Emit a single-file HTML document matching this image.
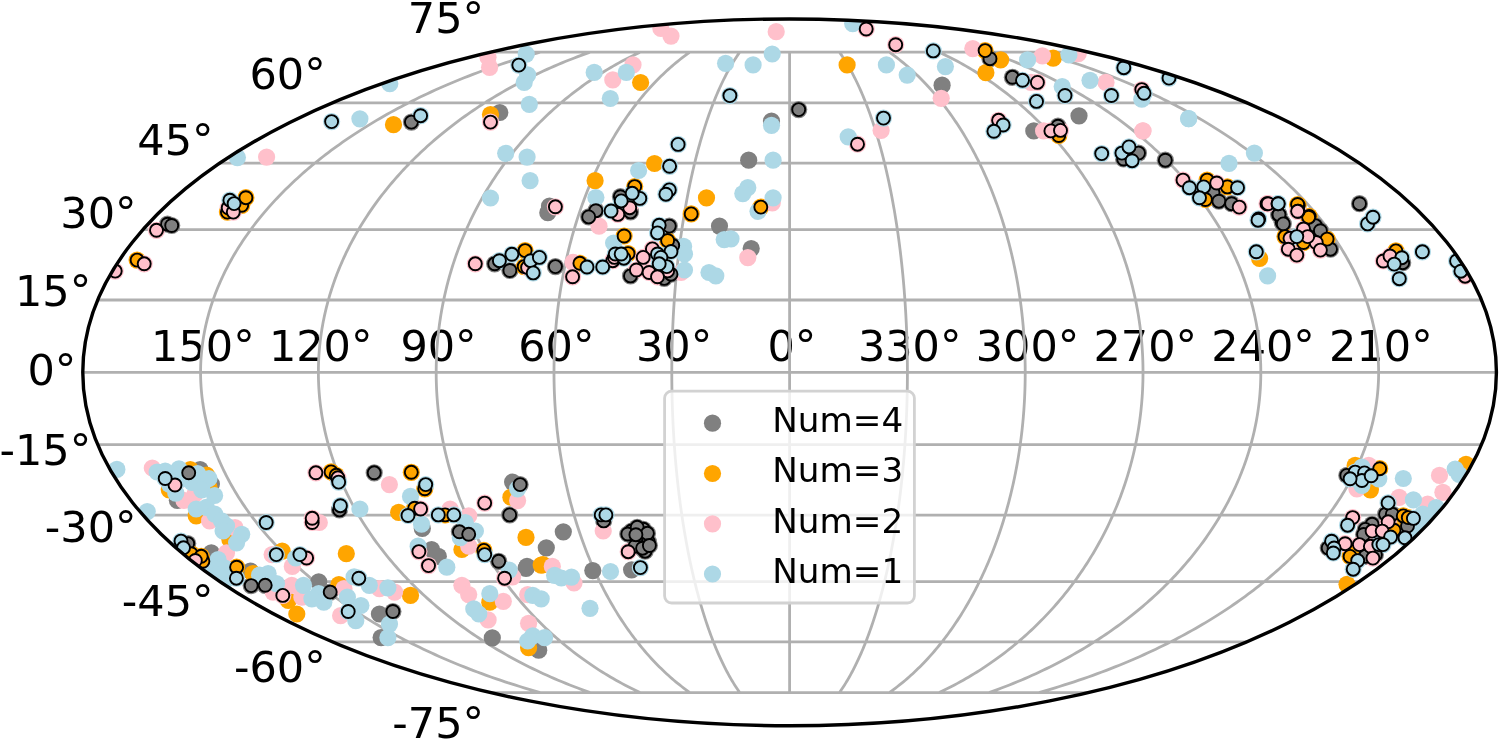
<!DOCTYPE html>
<html><head><meta charset="utf-8"><style>
html,body{margin:0;padding:0;background:#fff;}
svg{display:block;}
text{font-family:"DejaVu Sans","Liberation Sans",sans-serif;fill:#000;}
</style></head><body>
<svg width="1500" height="741" viewBox="0 0 1500 741">
<rect width="1500" height="741" fill="#fff"/>
<g font-size="43">
<text x="202.9" y="361.2" text-anchor="middle">150°</text><text x="320.7" y="361.2" text-anchor="middle">120°</text><text x="438.5" y="361.2" text-anchor="middle">90°</text><text x="556.3" y="361.2" text-anchor="middle">60°</text><text x="674.1" y="361.2" text-anchor="middle">30°</text><text x="791.9" y="361.2" text-anchor="middle">0°</text><text x="909.7" y="361.2" text-anchor="middle">330°</text><text x="1027.5" y="361.2" text-anchor="middle">300°</text><text x="1145.3" y="361.2" text-anchor="middle">270°</text><text x="1263.1" y="361.2" text-anchor="middle">240°</text><text x="1380.9" y="361.2" text-anchor="middle">210°</text>
<text x="484.0" y="737.6" text-anchor="end">-75°</text><text x="325.7" y="681.7" text-anchor="end">-60°</text><text x="213.5" y="615.5" text-anchor="end">-45°</text><text x="136.5" y="542.4" text-anchor="end">-30°</text><text x="91.2" y="464.9" text-anchor="end">-15°</text><text x="76.3" y="385.4" text-anchor="end">0°</text><text x="91.2" y="305.8" text-anchor="end">15°</text><text x="136.5" y="228.3" text-anchor="end">30°</text><text x="213.5" y="155.2" text-anchor="end">45°</text><text x="325.7" y="89.0" text-anchor="end">60°</text><text x="484.0" y="33.1" text-anchor="end">75°</text>
</g>
<path d="M490.50,692.56 L493.82,692.56 L497.15,692.56 L500.47,692.56 L503.79,692.56 L507.12,692.56 L510.44,692.56 L513.76,692.56 L517.09,692.56 L520.41,692.56 L523.73,692.56 L527.06,692.56 L530.38,692.56 L533.70,692.56 L537.03,692.56 L540.35,692.56 L543.67,692.56 L547.00,692.56 L550.32,692.56 L553.64,692.56 L556.97,692.56 L560.29,692.56 L563.61,692.56 L566.94,692.56 L570.26,692.56 L573.58,692.56 L576.91,692.56 L580.23,692.56 L583.55,692.56 L586.88,692.56 L590.20,692.56 L593.52,692.56 L596.85,692.56 L600.17,692.56 L603.49,692.56 L606.82,692.56 L610.14,692.56 L613.46,692.56 L616.79,692.56 L620.11,692.56 L623.43,692.56 L626.76,692.56 L630.08,692.56 L633.40,692.56 L636.73,692.56 L640.05,692.56 L643.37,692.56 L646.70,692.56 L650.02,692.56 L653.34,692.56 L656.67,692.56 L659.99,692.56 L663.31,692.56 L666.64,692.56 L669.96,692.56 L673.28,692.56 L676.61,692.56 L679.93,692.56 L683.25,692.56 L686.58,692.56 L689.90,692.56 L693.22,692.56 L696.55,692.56 L699.87,692.56 L703.19,692.56 L706.52,692.56 L709.84,692.56 L713.16,692.56 L716.49,692.56 L719.81,692.56 L723.13,692.56 L726.46,692.56 L729.78,692.56 L733.10,692.56 L736.43,692.56 L739.75,692.56 L743.07,692.56 L746.40,692.56 L749.72,692.56 L753.04,692.56 L756.37,692.56 L759.69,692.56 L763.01,692.56 L766.34,692.56 L769.66,692.56 L772.98,692.56 L776.31,692.56 L779.63,692.56 L782.95,692.56 L786.28,692.56 L789.60,692.56 L792.92,692.56 L796.25,692.56 L799.57,692.56 L802.89,692.56 L806.22,692.56 L809.54,692.56 L812.86,692.56 L816.19,692.56 L819.51,692.56 L822.83,692.56 L826.16,692.56 L829.48,692.56 L832.80,692.56 L836.13,692.56 L839.45,692.56 L842.77,692.56 L846.10,692.56 L849.42,692.56 L852.74,692.56 L856.07,692.56 L859.39,692.56 L862.71,692.56 L866.04,692.56 L869.36,692.56 L872.68,692.56 L876.01,692.56 L879.33,692.56 L882.65,692.56 L885.98,692.56 L889.30,692.56 L892.62,692.56 L895.95,692.56 L899.27,692.56 L902.59,692.56 L905.92,692.56 L909.24,692.56 L912.56,692.56 L915.89,692.56 L919.21,692.56 L922.53,692.56 L925.86,692.56 L929.18,692.56 L932.50,692.56 L935.83,692.56 L939.15,692.56 L942.47,692.56 L945.80,692.56 L949.12,692.56 L952.44,692.56 L955.77,692.56 L959.09,692.56 L962.41,692.56 L965.74,692.56 L969.06,692.56 L972.38,692.56 L975.71,692.56 L979.03,692.56 L982.35,692.56 L985.68,692.56 L989.00,692.56 L992.32,692.56 L995.65,692.56 L998.97,692.56 L1002.29,692.56 L1005.62,692.56 L1008.94,692.56 L1012.26,692.56 L1015.59,692.56 L1018.91,692.56 L1022.23,692.56 L1025.56,692.56 L1028.88,692.56 L1032.20,692.56 L1035.53,692.56 L1038.85,692.56 L1042.17,692.56 L1045.50,692.56 L1048.82,692.56 L1052.14,692.56 L1055.47,692.56 L1058.79,692.56 L1062.11,692.56 L1065.44,692.56 L1068.76,692.56 L1072.08,692.56 L1075.41,692.56 L1078.73,692.56 L1082.05,692.56 L1085.38,692.56 L1088.70,692.56 M332.20,641.79 L337.28,641.79 L342.36,641.79 L347.45,641.79 L352.53,641.79 L357.61,641.79 L362.69,641.79 L367.77,641.79 L372.86,641.79 L377.94,641.79 L383.02,641.79 L388.10,641.79 L393.19,641.79 L398.27,641.79 L403.35,641.79 L408.43,641.79 L413.51,641.79 L418.60,641.79 L423.68,641.79 L428.76,641.79 L433.84,641.79 L438.93,641.79 L444.01,641.79 L449.09,641.79 L454.17,641.79 L459.25,641.79 L464.34,641.79 L469.42,641.79 L474.50,641.79 L479.58,641.79 L484.67,641.79 L489.75,641.79 L494.83,641.79 L499.91,641.79 L504.99,641.79 L510.08,641.79 L515.16,641.79 L520.24,641.79 L525.32,641.79 L530.41,641.79 L535.49,641.79 L540.57,641.79 L545.65,641.79 L550.73,641.79 L555.82,641.79 L560.90,641.79 L565.98,641.79 L571.06,641.79 L576.15,641.79 L581.23,641.79 L586.31,641.79 L591.39,641.79 L596.47,641.79 L601.56,641.79 L606.64,641.79 L611.72,641.79 L616.80,641.79 L621.89,641.79 L626.97,641.79 L632.05,641.79 L637.13,641.79 L642.22,641.79 L647.30,641.79 L652.38,641.79 L657.46,641.79 L662.54,641.79 L667.63,641.79 L672.71,641.79 L677.79,641.79 L682.87,641.79 L687.96,641.79 L693.04,641.79 L698.12,641.79 L703.20,641.79 L708.28,641.79 L713.37,641.79 L718.45,641.79 L723.53,641.79 L728.61,641.79 L733.70,641.79 L738.78,641.79 L743.86,641.79 L748.94,641.79 L754.02,641.79 L759.11,641.79 L764.19,641.79 L769.27,641.79 L774.35,641.79 L779.44,641.79 L784.52,641.79 L789.60,641.79 L794.68,641.79 L799.76,641.79 L804.85,641.79 L809.93,641.79 L815.01,641.79 L820.09,641.79 L825.18,641.79 L830.26,641.79 L835.34,641.79 L840.42,641.79 L845.50,641.79 L850.59,641.79 L855.67,641.79 L860.75,641.79 L865.83,641.79 L870.92,641.79 L876.00,641.79 L881.08,641.79 L886.16,641.79 L891.24,641.79 L896.33,641.79 L901.41,641.79 L906.49,641.79 L911.57,641.79 L916.66,641.79 L921.74,641.79 L926.82,641.79 L931.90,641.79 L936.98,641.79 L942.07,641.79 L947.15,641.79 L952.23,641.79 L957.31,641.79 L962.40,641.79 L967.48,641.79 L972.56,641.79 L977.64,641.79 L982.73,641.79 L987.81,641.79 L992.89,641.79 L997.97,641.79 L1003.05,641.79 L1008.14,641.79 L1013.22,641.79 L1018.30,641.79 L1023.38,641.79 L1028.47,641.79 L1033.55,641.79 L1038.63,641.79 L1043.71,641.79 L1048.79,641.79 L1053.88,641.79 L1058.96,641.79 L1064.04,641.79 L1069.12,641.79 L1074.21,641.79 L1079.29,641.79 L1084.37,641.79 L1089.45,641.79 L1094.53,641.79 L1099.62,641.79 L1104.70,641.79 L1109.78,641.79 L1114.86,641.79 L1119.95,641.79 L1125.03,641.79 L1130.11,641.79 L1135.19,641.79 L1140.27,641.79 L1145.36,641.79 L1150.44,641.79 L1155.52,641.79 L1160.60,641.79 L1165.69,641.79 L1170.77,641.79 L1175.85,641.79 L1180.93,641.79 L1186.01,641.79 L1191.10,641.79 L1196.18,641.79 L1201.26,641.79 L1206.34,641.79 L1211.43,641.79 L1216.51,641.79 L1221.59,641.79 L1226.67,641.79 L1231.75,641.79 L1236.84,641.79 L1241.92,641.79 L1247.00,641.79 M219.97,581.58 L226.29,581.58 L232.62,581.58 L238.95,581.58 L245.28,581.58 L251.61,581.58 L257.94,581.58 L264.27,581.58 L270.60,581.58 L276.93,581.58 L283.26,581.58 L289.59,581.58 L295.92,581.58 L302.25,581.58 L308.58,581.58 L314.90,581.58 L321.23,581.58 L327.56,581.58 L333.89,581.58 L340.22,581.58 L346.55,581.58 L352.88,581.58 L359.21,581.58 L365.54,581.58 L371.87,581.58 L378.20,581.58 L384.53,581.58 L390.86,581.58 L397.19,581.58 L403.51,581.58 L409.84,581.58 L416.17,581.58 L422.50,581.58 L428.83,581.58 L435.16,581.58 L441.49,581.58 L447.82,581.58 L454.15,581.58 L460.48,581.58 L466.81,581.58 L473.14,581.58 L479.47,581.58 L485.79,581.58 L492.12,581.58 L498.45,581.58 L504.78,581.58 L511.11,581.58 L517.44,581.58 L523.77,581.58 L530.10,581.58 L536.43,581.58 L542.76,581.58 L549.09,581.58 L555.42,581.58 L561.75,581.58 L568.08,581.58 L574.40,581.58 L580.73,581.58 L587.06,581.58 L593.39,581.58 L599.72,581.58 L606.05,581.58 L612.38,581.58 L618.71,581.58 L625.04,581.58 L631.37,581.58 L637.70,581.58 L644.03,581.58 L650.36,581.58 L656.69,581.58 L663.01,581.58 L669.34,581.58 L675.67,581.58 L682.00,581.58 L688.33,581.58 L694.66,581.58 L700.99,581.58 L707.32,581.58 L713.65,581.58 L719.98,581.58 L726.31,581.58 L732.64,581.58 L738.97,581.58 L745.30,581.58 L751.62,581.58 L757.95,581.58 L764.28,581.58 L770.61,581.58 L776.94,581.58 L783.27,581.58 L789.60,581.58 L795.93,581.58 L802.26,581.58 L808.59,581.58 L814.92,581.58 L821.25,581.58 L827.58,581.58 L833.90,581.58 L840.23,581.58 L846.56,581.58 L852.89,581.58 L859.22,581.58 L865.55,581.58 L871.88,581.58 L878.21,581.58 L884.54,581.58 L890.87,581.58 L897.20,581.58 L903.53,581.58 L909.86,581.58 L916.19,581.58 L922.51,581.58 L928.84,581.58 L935.17,581.58 L941.50,581.58 L947.83,581.58 L954.16,581.58 L960.49,581.58 L966.82,581.58 L973.15,581.58 L979.48,581.58 L985.81,581.58 L992.14,581.58 L998.47,581.58 L1004.80,581.58 L1011.12,581.58 L1017.45,581.58 L1023.78,581.58 L1030.11,581.58 L1036.44,581.58 L1042.77,581.58 L1049.10,581.58 L1055.43,581.58 L1061.76,581.58 L1068.09,581.58 L1074.42,581.58 L1080.75,581.58 L1087.08,581.58 L1093.41,581.58 L1099.73,581.58 L1106.06,581.58 L1112.39,581.58 L1118.72,581.58 L1125.05,581.58 L1131.38,581.58 L1137.71,581.58 L1144.04,581.58 L1150.37,581.58 L1156.70,581.58 L1163.03,581.58 L1169.36,581.58 L1175.69,581.58 L1182.01,581.58 L1188.34,581.58 L1194.67,581.58 L1201.00,581.58 L1207.33,581.58 L1213.66,581.58 L1219.99,581.58 L1226.32,581.58 L1232.65,581.58 L1238.98,581.58 L1245.31,581.58 L1251.64,581.58 L1257.97,581.58 L1264.30,581.58 L1270.62,581.58 L1276.95,581.58 L1283.28,581.58 L1289.61,581.58 L1295.94,581.58 L1302.27,581.58 L1308.60,581.58 L1314.93,581.58 L1321.26,581.58 L1327.59,581.58 L1333.92,581.58 L1340.25,581.58 L1346.58,581.58 L1352.91,581.58 L1359.23,581.58 M143.02,515.12 L150.20,515.12 L157.39,515.12 L164.57,515.12 L171.75,515.12 L178.94,515.12 L186.12,515.12 L193.31,515.12 L200.49,515.12 L207.68,515.12 L214.86,515.12 L222.04,515.12 L229.23,515.12 L236.41,515.12 L243.60,515.12 L250.78,515.12 L257.97,515.12 L265.15,515.12 L272.33,515.12 L279.52,515.12 L286.70,515.12 L293.89,515.12 L301.07,515.12 L308.26,515.12 L315.44,515.12 L322.62,515.12 L329.81,515.12 L336.99,515.12 L344.18,515.12 L351.36,515.12 L358.55,515.12 L365.73,515.12 L372.91,515.12 L380.10,515.12 L387.28,515.12 L394.47,515.12 L401.65,515.12 L408.84,515.12 L416.02,515.12 L423.20,515.12 L430.39,515.12 L437.57,515.12 L444.76,515.12 L451.94,515.12 L459.12,515.12 L466.31,515.12 L473.49,515.12 L480.68,515.12 L487.86,515.12 L495.05,515.12 L502.23,515.12 L509.41,515.12 L516.60,515.12 L523.78,515.12 L530.97,515.12 L538.15,515.12 L545.34,515.12 L552.52,515.12 L559.70,515.12 L566.89,515.12 L574.07,515.12 L581.26,515.12 L588.44,515.12 L595.63,515.12 L602.81,515.12 L609.99,515.12 L617.18,515.12 L624.36,515.12 L631.55,515.12 L638.73,515.12 L645.92,515.12 L653.10,515.12 L660.28,515.12 L667.47,515.12 L674.65,515.12 L681.84,515.12 L689.02,515.12 L696.20,515.12 L703.39,515.12 L710.57,515.12 L717.76,515.12 L724.94,515.12 L732.13,515.12 L739.31,515.12 L746.49,515.12 L753.68,515.12 L760.86,515.12 L768.05,515.12 L775.23,515.12 L782.42,515.12 L789.60,515.12 L796.78,515.12 L803.97,515.12 L811.15,515.12 L818.34,515.12 L825.52,515.12 L832.71,515.12 L839.89,515.12 L847.07,515.12 L854.26,515.12 L861.44,515.12 L868.63,515.12 L875.81,515.12 L883.00,515.12 L890.18,515.12 L897.36,515.12 L904.55,515.12 L911.73,515.12 L918.92,515.12 L926.10,515.12 L933.28,515.12 L940.47,515.12 L947.65,515.12 L954.84,515.12 L962.02,515.12 L969.21,515.12 L976.39,515.12 L983.57,515.12 L990.76,515.12 L997.94,515.12 L1005.13,515.12 L1012.31,515.12 L1019.50,515.12 L1026.68,515.12 L1033.86,515.12 L1041.05,515.12 L1048.23,515.12 L1055.42,515.12 L1062.60,515.12 L1069.79,515.12 L1076.97,515.12 L1084.15,515.12 L1091.34,515.12 L1098.52,515.12 L1105.71,515.12 L1112.89,515.12 L1120.08,515.12 L1127.26,515.12 L1134.44,515.12 L1141.63,515.12 L1148.81,515.12 L1156.00,515.12 L1163.18,515.12 L1170.36,515.12 L1177.55,515.12 L1184.73,515.12 L1191.92,515.12 L1199.10,515.12 L1206.29,515.12 L1213.47,515.12 L1220.65,515.12 L1227.84,515.12 L1235.02,515.12 L1242.21,515.12 L1249.39,515.12 L1256.58,515.12 L1263.76,515.12 L1270.94,515.12 L1278.13,515.12 L1285.31,515.12 L1292.50,515.12 L1299.68,515.12 L1306.87,515.12 L1314.05,515.12 L1321.23,515.12 L1328.42,515.12 L1335.60,515.12 L1342.79,515.12 L1349.97,515.12 L1357.16,515.12 L1364.34,515.12 L1371.52,515.12 L1378.71,515.12 L1385.89,515.12 L1393.08,515.12 L1400.26,515.12 L1407.45,515.12 L1414.63,515.12 L1421.81,515.12 L1429.00,515.12 L1436.18,515.12 M97.75,444.70 L105.43,444.70 L113.12,444.70 L120.81,444.70 L128.49,444.70 L136.18,444.70 L143.87,444.70 L151.56,444.70 L159.24,444.70 L166.93,444.70 L174.62,444.70 L182.31,444.70 L189.99,444.70 L197.68,444.70 L205.37,444.70 L213.05,444.70 L220.74,444.70 L228.43,444.70 L236.12,444.70 L243.80,444.70 L251.49,444.70 L259.18,444.70 L266.87,444.70 L274.55,444.70 L282.24,444.70 L289.93,444.70 L297.61,444.70 L305.30,444.70 L312.99,444.70 L320.68,444.70 L328.36,444.70 L336.05,444.70 L343.74,444.70 L351.43,444.70 L359.11,444.70 L366.80,444.70 L374.49,444.70 L382.17,444.70 L389.86,444.70 L397.55,444.70 L405.24,444.70 L412.92,444.70 L420.61,444.70 L428.30,444.70 L435.99,444.70 L443.67,444.70 L451.36,444.70 L459.05,444.70 L466.73,444.70 L474.42,444.70 L482.11,444.70 L489.80,444.70 L497.48,444.70 L505.17,444.70 L512.86,444.70 L520.55,444.70 L528.23,444.70 L535.92,444.70 L543.61,444.70 L551.29,444.70 L558.98,444.70 L566.67,444.70 L574.36,444.70 L582.04,444.70 L589.73,444.70 L597.42,444.70 L605.11,444.70 L612.79,444.70 L620.48,444.70 L628.17,444.70 L635.85,444.70 L643.54,444.70 L651.23,444.70 L658.92,444.70 L666.60,444.70 L674.29,444.70 L681.98,444.70 L689.67,444.70 L697.35,444.70 L705.04,444.70 L712.73,444.70 L720.41,444.70 L728.10,444.70 L735.79,444.70 L743.48,444.70 L751.16,444.70 L758.85,444.70 L766.54,444.70 L774.23,444.70 L781.91,444.70 L789.60,444.70 L797.29,444.70 L804.97,444.70 L812.66,444.70 L820.35,444.70 L828.04,444.70 L835.72,444.70 L843.41,444.70 L851.10,444.70 L858.79,444.70 L866.47,444.70 L874.16,444.70 L881.85,444.70 L889.53,444.70 L897.22,444.70 L904.91,444.70 L912.60,444.70 L920.28,444.70 L927.97,444.70 L935.66,444.70 L943.35,444.70 L951.03,444.70 L958.72,444.70 L966.41,444.70 L974.09,444.70 L981.78,444.70 L989.47,444.70 L997.16,444.70 L1004.84,444.70 L1012.53,444.70 L1020.22,444.70 L1027.91,444.70 L1035.59,444.70 L1043.28,444.70 L1050.97,444.70 L1058.65,444.70 L1066.34,444.70 L1074.03,444.70 L1081.72,444.70 L1089.40,444.70 L1097.09,444.70 L1104.78,444.70 L1112.47,444.70 L1120.15,444.70 L1127.84,444.70 L1135.53,444.70 L1143.21,444.70 L1150.90,444.70 L1158.59,444.70 L1166.28,444.70 L1173.96,444.70 L1181.65,444.70 L1189.34,444.70 L1197.03,444.70 L1204.71,444.70 L1212.40,444.70 L1220.09,444.70 L1227.77,444.70 L1235.46,444.70 L1243.15,444.70 L1250.84,444.70 L1258.52,444.70 L1266.21,444.70 L1273.90,444.70 L1281.59,444.70 L1289.27,444.70 L1296.96,444.70 L1304.65,444.70 L1312.33,444.70 L1320.02,444.70 L1327.71,444.70 L1335.40,444.70 L1343.08,444.70 L1350.77,444.70 L1358.46,444.70 L1366.15,444.70 L1373.83,444.70 L1381.52,444.70 L1389.21,444.70 L1396.89,444.70 L1404.58,444.70 L1412.27,444.70 L1419.96,444.70 L1427.64,444.70 L1435.33,444.70 L1443.02,444.70 L1450.71,444.70 L1458.39,444.70 L1466.08,444.70 L1473.77,444.70 L1481.45,444.70 M82.78,372.35 L90.63,372.35 L98.48,372.35 L106.34,372.35 L114.19,372.35 L122.04,372.35 L129.90,372.35 L137.75,372.35 L145.60,372.35 L153.46,372.35 L161.31,372.35 L169.17,372.35 L177.02,372.35 L184.87,372.35 L192.73,372.35 L200.58,372.35 L208.43,372.35 L216.29,372.35 L224.14,372.35 L231.99,372.35 L239.85,372.35 L247.70,372.35 L255.56,372.35 L263.41,372.35 L271.26,372.35 L279.12,372.35 L286.97,372.35 L294.82,372.35 L302.68,372.35 L310.53,372.35 L318.38,372.35 L326.24,372.35 L334.09,372.35 L341.94,372.35 L349.80,372.35 L357.65,372.35 L365.51,372.35 L373.36,372.35 L381.21,372.35 L389.07,372.35 L396.92,372.35 L404.77,372.35 L412.63,372.35 L420.48,372.35 L428.33,372.35 L436.19,372.35 L444.04,372.35 L451.90,372.35 L459.75,372.35 L467.60,372.35 L475.46,372.35 L483.31,372.35 L491.16,372.35 L499.02,372.35 L506.87,372.35 L514.72,372.35 L522.58,372.35 L530.43,372.35 L538.28,372.35 L546.14,372.35 L553.99,372.35 L561.85,372.35 L569.70,372.35 L577.55,372.35 L585.41,372.35 L593.26,372.35 L601.11,372.35 L608.97,372.35 L616.82,372.35 L624.67,372.35 L632.53,372.35 L640.38,372.35 L648.24,372.35 L656.09,372.35 L663.94,372.35 L671.80,372.35 L679.65,372.35 L687.50,372.35 L695.36,372.35 L703.21,372.35 L711.06,372.35 L718.92,372.35 L726.77,372.35 L734.62,372.35 L742.48,372.35 L750.33,372.35 L758.19,372.35 L766.04,372.35 L773.89,372.35 L781.75,372.35 L789.60,372.35 L797.45,372.35 L805.31,372.35 L813.16,372.35 L821.01,372.35 L828.87,372.35 L836.72,372.35 L844.58,372.35 L852.43,372.35 L860.28,372.35 L868.14,372.35 L875.99,372.35 L883.84,372.35 L891.70,372.35 L899.55,372.35 L907.40,372.35 L915.26,372.35 L923.11,372.35 L930.96,372.35 L938.82,372.35 L946.67,372.35 L954.53,372.35 L962.38,372.35 L970.23,372.35 L978.09,372.35 L985.94,372.35 L993.79,372.35 L1001.65,372.35 L1009.50,372.35 L1017.35,372.35 L1025.21,372.35 L1033.06,372.35 L1040.92,372.35 L1048.77,372.35 L1056.62,372.35 L1064.48,372.35 L1072.33,372.35 L1080.18,372.35 L1088.04,372.35 L1095.89,372.35 L1103.74,372.35 L1111.60,372.35 L1119.45,372.35 L1127.30,372.35 L1135.16,372.35 L1143.01,372.35 L1150.87,372.35 L1158.72,372.35 L1166.57,372.35 L1174.43,372.35 L1182.28,372.35 L1190.13,372.35 L1197.99,372.35 L1205.84,372.35 L1213.69,372.35 L1221.55,372.35 L1229.40,372.35 L1237.26,372.35 L1245.11,372.35 L1252.96,372.35 L1260.82,372.35 L1268.67,372.35 L1276.52,372.35 L1284.38,372.35 L1292.23,372.35 L1300.08,372.35 L1307.94,372.35 L1315.79,372.35 L1323.64,372.35 L1331.50,372.35 L1339.35,372.35 L1347.21,372.35 L1355.06,372.35 L1362.91,372.35 L1370.77,372.35 L1378.62,372.35 L1386.47,372.35 L1394.33,372.35 L1402.18,372.35 L1410.03,372.35 L1417.89,372.35 L1425.74,372.35 L1433.60,372.35 L1441.45,372.35 L1449.30,372.35 L1457.16,372.35 L1465.01,372.35 L1472.86,372.35 L1480.72,372.35 L1488.57,372.35 L1496.42,372.35 M97.75,300.00 L105.43,300.00 L113.12,300.00 L120.81,300.00 L128.49,300.00 L136.18,300.00 L143.87,300.00 L151.56,300.00 L159.24,300.00 L166.93,300.00 L174.62,300.00 L182.31,300.00 L189.99,300.00 L197.68,300.00 L205.37,300.00 L213.05,300.00 L220.74,300.00 L228.43,300.00 L236.12,300.00 L243.80,300.00 L251.49,300.00 L259.18,300.00 L266.87,300.00 L274.55,300.00 L282.24,300.00 L289.93,300.00 L297.61,300.00 L305.30,300.00 L312.99,300.00 L320.68,300.00 L328.36,300.00 L336.05,300.00 L343.74,300.00 L351.43,300.00 L359.11,300.00 L366.80,300.00 L374.49,300.00 L382.17,300.00 L389.86,300.00 L397.55,300.00 L405.24,300.00 L412.92,300.00 L420.61,300.00 L428.30,300.00 L435.99,300.00 L443.67,300.00 L451.36,300.00 L459.05,300.00 L466.73,300.00 L474.42,300.00 L482.11,300.00 L489.80,300.00 L497.48,300.00 L505.17,300.00 L512.86,300.00 L520.55,300.00 L528.23,300.00 L535.92,300.00 L543.61,300.00 L551.29,300.00 L558.98,300.00 L566.67,300.00 L574.36,300.00 L582.04,300.00 L589.73,300.00 L597.42,300.00 L605.11,300.00 L612.79,300.00 L620.48,300.00 L628.17,300.00 L635.85,300.00 L643.54,300.00 L651.23,300.00 L658.92,300.00 L666.60,300.00 L674.29,300.00 L681.98,300.00 L689.67,300.00 L697.35,300.00 L705.04,300.00 L712.73,300.00 L720.41,300.00 L728.10,300.00 L735.79,300.00 L743.48,300.00 L751.16,300.00 L758.85,300.00 L766.54,300.00 L774.23,300.00 L781.91,300.00 L789.60,300.00 L797.29,300.00 L804.97,300.00 L812.66,300.00 L820.35,300.00 L828.04,300.00 L835.72,300.00 L843.41,300.00 L851.10,300.00 L858.79,300.00 L866.47,300.00 L874.16,300.00 L881.85,300.00 L889.53,300.00 L897.22,300.00 L904.91,300.00 L912.60,300.00 L920.28,300.00 L927.97,300.00 L935.66,300.00 L943.35,300.00 L951.03,300.00 L958.72,300.00 L966.41,300.00 L974.09,300.00 L981.78,300.00 L989.47,300.00 L997.16,300.00 L1004.84,300.00 L1012.53,300.00 L1020.22,300.00 L1027.91,300.00 L1035.59,300.00 L1043.28,300.00 L1050.97,300.00 L1058.65,300.00 L1066.34,300.00 L1074.03,300.00 L1081.72,300.00 L1089.40,300.00 L1097.09,300.00 L1104.78,300.00 L1112.47,300.00 L1120.15,300.00 L1127.84,300.00 L1135.53,300.00 L1143.21,300.00 L1150.90,300.00 L1158.59,300.00 L1166.28,300.00 L1173.96,300.00 L1181.65,300.00 L1189.34,300.00 L1197.03,300.00 L1204.71,300.00 L1212.40,300.00 L1220.09,300.00 L1227.77,300.00 L1235.46,300.00 L1243.15,300.00 L1250.84,300.00 L1258.52,300.00 L1266.21,300.00 L1273.90,300.00 L1281.59,300.00 L1289.27,300.00 L1296.96,300.00 L1304.65,300.00 L1312.33,300.00 L1320.02,300.00 L1327.71,300.00 L1335.40,300.00 L1343.08,300.00 L1350.77,300.00 L1358.46,300.00 L1366.15,300.00 L1373.83,300.00 L1381.52,300.00 L1389.21,300.00 L1396.89,300.00 L1404.58,300.00 L1412.27,300.00 L1419.96,300.00 L1427.64,300.00 L1435.33,300.00 L1443.02,300.00 L1450.71,300.00 L1458.39,300.00 L1466.08,300.00 L1473.77,300.00 L1481.45,300.00 M143.02,229.58 L150.20,229.58 L157.39,229.58 L164.57,229.58 L171.75,229.58 L178.94,229.58 L186.12,229.58 L193.31,229.58 L200.49,229.58 L207.68,229.58 L214.86,229.58 L222.04,229.58 L229.23,229.58 L236.41,229.58 L243.60,229.58 L250.78,229.58 L257.97,229.58 L265.15,229.58 L272.33,229.58 L279.52,229.58 L286.70,229.58 L293.89,229.58 L301.07,229.58 L308.26,229.58 L315.44,229.58 L322.62,229.58 L329.81,229.58 L336.99,229.58 L344.18,229.58 L351.36,229.58 L358.55,229.58 L365.73,229.58 L372.91,229.58 L380.10,229.58 L387.28,229.58 L394.47,229.58 L401.65,229.58 L408.84,229.58 L416.02,229.58 L423.20,229.58 L430.39,229.58 L437.57,229.58 L444.76,229.58 L451.94,229.58 L459.12,229.58 L466.31,229.58 L473.49,229.58 L480.68,229.58 L487.86,229.58 L495.05,229.58 L502.23,229.58 L509.41,229.58 L516.60,229.58 L523.78,229.58 L530.97,229.58 L538.15,229.58 L545.34,229.58 L552.52,229.58 L559.70,229.58 L566.89,229.58 L574.07,229.58 L581.26,229.58 L588.44,229.58 L595.63,229.58 L602.81,229.58 L609.99,229.58 L617.18,229.58 L624.36,229.58 L631.55,229.58 L638.73,229.58 L645.92,229.58 L653.10,229.58 L660.28,229.58 L667.47,229.58 L674.65,229.58 L681.84,229.58 L689.02,229.58 L696.20,229.58 L703.39,229.58 L710.57,229.58 L717.76,229.58 L724.94,229.58 L732.13,229.58 L739.31,229.58 L746.49,229.58 L753.68,229.58 L760.86,229.58 L768.05,229.58 L775.23,229.58 L782.42,229.58 L789.60,229.58 L796.78,229.58 L803.97,229.58 L811.15,229.58 L818.34,229.58 L825.52,229.58 L832.71,229.58 L839.89,229.58 L847.07,229.58 L854.26,229.58 L861.44,229.58 L868.63,229.58 L875.81,229.58 L883.00,229.58 L890.18,229.58 L897.36,229.58 L904.55,229.58 L911.73,229.58 L918.92,229.58 L926.10,229.58 L933.28,229.58 L940.47,229.58 L947.65,229.58 L954.84,229.58 L962.02,229.58 L969.21,229.58 L976.39,229.58 L983.57,229.58 L990.76,229.58 L997.94,229.58 L1005.13,229.58 L1012.31,229.58 L1019.50,229.58 L1026.68,229.58 L1033.86,229.58 L1041.05,229.58 L1048.23,229.58 L1055.42,229.58 L1062.60,229.58 L1069.79,229.58 L1076.97,229.58 L1084.15,229.58 L1091.34,229.58 L1098.52,229.58 L1105.71,229.58 L1112.89,229.58 L1120.08,229.58 L1127.26,229.58 L1134.44,229.58 L1141.63,229.58 L1148.81,229.58 L1156.00,229.58 L1163.18,229.58 L1170.36,229.58 L1177.55,229.58 L1184.73,229.58 L1191.92,229.58 L1199.10,229.58 L1206.29,229.58 L1213.47,229.58 L1220.65,229.58 L1227.84,229.58 L1235.02,229.58 L1242.21,229.58 L1249.39,229.58 L1256.58,229.58 L1263.76,229.58 L1270.94,229.58 L1278.13,229.58 L1285.31,229.58 L1292.50,229.58 L1299.68,229.58 L1306.87,229.58 L1314.05,229.58 L1321.23,229.58 L1328.42,229.58 L1335.60,229.58 L1342.79,229.58 L1349.97,229.58 L1357.16,229.58 L1364.34,229.58 L1371.52,229.58 L1378.71,229.58 L1385.89,229.58 L1393.08,229.58 L1400.26,229.58 L1407.45,229.58 L1414.63,229.58 L1421.81,229.58 L1429.00,229.58 L1436.18,229.58 M219.97,163.12 L226.29,163.12 L232.62,163.12 L238.95,163.12 L245.28,163.12 L251.61,163.12 L257.94,163.12 L264.27,163.12 L270.60,163.12 L276.93,163.12 L283.26,163.12 L289.59,163.12 L295.92,163.12 L302.25,163.12 L308.58,163.12 L314.90,163.12 L321.23,163.12 L327.56,163.12 L333.89,163.12 L340.22,163.12 L346.55,163.12 L352.88,163.12 L359.21,163.12 L365.54,163.12 L371.87,163.12 L378.20,163.12 L384.53,163.12 L390.86,163.12 L397.19,163.12 L403.51,163.12 L409.84,163.12 L416.17,163.12 L422.50,163.12 L428.83,163.12 L435.16,163.12 L441.49,163.12 L447.82,163.12 L454.15,163.12 L460.48,163.12 L466.81,163.12 L473.14,163.12 L479.47,163.12 L485.79,163.12 L492.12,163.12 L498.45,163.12 L504.78,163.12 L511.11,163.12 L517.44,163.12 L523.77,163.12 L530.10,163.12 L536.43,163.12 L542.76,163.12 L549.09,163.12 L555.42,163.12 L561.75,163.12 L568.08,163.12 L574.40,163.12 L580.73,163.12 L587.06,163.12 L593.39,163.12 L599.72,163.12 L606.05,163.12 L612.38,163.12 L618.71,163.12 L625.04,163.12 L631.37,163.12 L637.70,163.12 L644.03,163.12 L650.36,163.12 L656.69,163.12 L663.01,163.12 L669.34,163.12 L675.67,163.12 L682.00,163.12 L688.33,163.12 L694.66,163.12 L700.99,163.12 L707.32,163.12 L713.65,163.12 L719.98,163.12 L726.31,163.12 L732.64,163.12 L738.97,163.12 L745.30,163.12 L751.62,163.12 L757.95,163.12 L764.28,163.12 L770.61,163.12 L776.94,163.12 L783.27,163.12 L789.60,163.12 L795.93,163.12 L802.26,163.12 L808.59,163.12 L814.92,163.12 L821.25,163.12 L827.58,163.12 L833.90,163.12 L840.23,163.12 L846.56,163.12 L852.89,163.12 L859.22,163.12 L865.55,163.12 L871.88,163.12 L878.21,163.12 L884.54,163.12 L890.87,163.12 L897.20,163.12 L903.53,163.12 L909.86,163.12 L916.19,163.12 L922.51,163.12 L928.84,163.12 L935.17,163.12 L941.50,163.12 L947.83,163.12 L954.16,163.12 L960.49,163.12 L966.82,163.12 L973.15,163.12 L979.48,163.12 L985.81,163.12 L992.14,163.12 L998.47,163.12 L1004.80,163.12 L1011.12,163.12 L1017.45,163.12 L1023.78,163.12 L1030.11,163.12 L1036.44,163.12 L1042.77,163.12 L1049.10,163.12 L1055.43,163.12 L1061.76,163.12 L1068.09,163.12 L1074.42,163.12 L1080.75,163.12 L1087.08,163.12 L1093.41,163.12 L1099.73,163.12 L1106.06,163.12 L1112.39,163.12 L1118.72,163.12 L1125.05,163.12 L1131.38,163.12 L1137.71,163.12 L1144.04,163.12 L1150.37,163.12 L1156.70,163.12 L1163.03,163.12 L1169.36,163.12 L1175.69,163.12 L1182.01,163.12 L1188.34,163.12 L1194.67,163.12 L1201.00,163.12 L1207.33,163.12 L1213.66,163.12 L1219.99,163.12 L1226.32,163.12 L1232.65,163.12 L1238.98,163.12 L1245.31,163.12 L1251.64,163.12 L1257.97,163.12 L1264.30,163.12 L1270.62,163.12 L1276.95,163.12 L1283.28,163.12 L1289.61,163.12 L1295.94,163.12 L1302.27,163.12 L1308.60,163.12 L1314.93,163.12 L1321.26,163.12 L1327.59,163.12 L1333.92,163.12 L1340.25,163.12 L1346.58,163.12 L1352.91,163.12 L1359.23,163.12 M332.20,102.91 L337.28,102.91 L342.36,102.91 L347.45,102.91 L352.53,102.91 L357.61,102.91 L362.69,102.91 L367.77,102.91 L372.86,102.91 L377.94,102.91 L383.02,102.91 L388.10,102.91 L393.19,102.91 L398.27,102.91 L403.35,102.91 L408.43,102.91 L413.51,102.91 L418.60,102.91 L423.68,102.91 L428.76,102.91 L433.84,102.91 L438.93,102.91 L444.01,102.91 L449.09,102.91 L454.17,102.91 L459.25,102.91 L464.34,102.91 L469.42,102.91 L474.50,102.91 L479.58,102.91 L484.67,102.91 L489.75,102.91 L494.83,102.91 L499.91,102.91 L504.99,102.91 L510.08,102.91 L515.16,102.91 L520.24,102.91 L525.32,102.91 L530.41,102.91 L535.49,102.91 L540.57,102.91 L545.65,102.91 L550.73,102.91 L555.82,102.91 L560.90,102.91 L565.98,102.91 L571.06,102.91 L576.15,102.91 L581.23,102.91 L586.31,102.91 L591.39,102.91 L596.47,102.91 L601.56,102.91 L606.64,102.91 L611.72,102.91 L616.80,102.91 L621.89,102.91 L626.97,102.91 L632.05,102.91 L637.13,102.91 L642.22,102.91 L647.30,102.91 L652.38,102.91 L657.46,102.91 L662.54,102.91 L667.63,102.91 L672.71,102.91 L677.79,102.91 L682.87,102.91 L687.96,102.91 L693.04,102.91 L698.12,102.91 L703.20,102.91 L708.28,102.91 L713.37,102.91 L718.45,102.91 L723.53,102.91 L728.61,102.91 L733.70,102.91 L738.78,102.91 L743.86,102.91 L748.94,102.91 L754.02,102.91 L759.11,102.91 L764.19,102.91 L769.27,102.91 L774.35,102.91 L779.44,102.91 L784.52,102.91 L789.60,102.91 L794.68,102.91 L799.76,102.91 L804.85,102.91 L809.93,102.91 L815.01,102.91 L820.09,102.91 L825.18,102.91 L830.26,102.91 L835.34,102.91 L840.42,102.91 L845.50,102.91 L850.59,102.91 L855.67,102.91 L860.75,102.91 L865.83,102.91 L870.92,102.91 L876.00,102.91 L881.08,102.91 L886.16,102.91 L891.24,102.91 L896.33,102.91 L901.41,102.91 L906.49,102.91 L911.57,102.91 L916.66,102.91 L921.74,102.91 L926.82,102.91 L931.90,102.91 L936.98,102.91 L942.07,102.91 L947.15,102.91 L952.23,102.91 L957.31,102.91 L962.40,102.91 L967.48,102.91 L972.56,102.91 L977.64,102.91 L982.73,102.91 L987.81,102.91 L992.89,102.91 L997.97,102.91 L1003.05,102.91 L1008.14,102.91 L1013.22,102.91 L1018.30,102.91 L1023.38,102.91 L1028.47,102.91 L1033.55,102.91 L1038.63,102.91 L1043.71,102.91 L1048.79,102.91 L1053.88,102.91 L1058.96,102.91 L1064.04,102.91 L1069.12,102.91 L1074.21,102.91 L1079.29,102.91 L1084.37,102.91 L1089.45,102.91 L1094.53,102.91 L1099.62,102.91 L1104.70,102.91 L1109.78,102.91 L1114.86,102.91 L1119.95,102.91 L1125.03,102.91 L1130.11,102.91 L1135.19,102.91 L1140.27,102.91 L1145.36,102.91 L1150.44,102.91 L1155.52,102.91 L1160.60,102.91 L1165.69,102.91 L1170.77,102.91 L1175.85,102.91 L1180.93,102.91 L1186.01,102.91 L1191.10,102.91 L1196.18,102.91 L1201.26,102.91 L1206.34,102.91 L1211.43,102.91 L1216.51,102.91 L1221.59,102.91 L1226.67,102.91 L1231.75,102.91 L1236.84,102.91 L1241.92,102.91 L1247.00,102.91 M490.50,52.14 L493.82,52.14 L497.15,52.14 L500.47,52.14 L503.79,52.14 L507.12,52.14 L510.44,52.14 L513.76,52.14 L517.09,52.14 L520.41,52.14 L523.73,52.14 L527.06,52.14 L530.38,52.14 L533.70,52.14 L537.03,52.14 L540.35,52.14 L543.67,52.14 L547.00,52.14 L550.32,52.14 L553.64,52.14 L556.97,52.14 L560.29,52.14 L563.61,52.14 L566.94,52.14 L570.26,52.14 L573.58,52.14 L576.91,52.14 L580.23,52.14 L583.55,52.14 L586.88,52.14 L590.20,52.14 L593.52,52.14 L596.85,52.14 L600.17,52.14 L603.49,52.14 L606.82,52.14 L610.14,52.14 L613.46,52.14 L616.79,52.14 L620.11,52.14 L623.43,52.14 L626.76,52.14 L630.08,52.14 L633.40,52.14 L636.73,52.14 L640.05,52.14 L643.37,52.14 L646.70,52.14 L650.02,52.14 L653.34,52.14 L656.67,52.14 L659.99,52.14 L663.31,52.14 L666.64,52.14 L669.96,52.14 L673.28,52.14 L676.61,52.14 L679.93,52.14 L683.25,52.14 L686.58,52.14 L689.90,52.14 L693.22,52.14 L696.55,52.14 L699.87,52.14 L703.19,52.14 L706.52,52.14 L709.84,52.14 L713.16,52.14 L716.49,52.14 L719.81,52.14 L723.13,52.14 L726.46,52.14 L729.78,52.14 L733.10,52.14 L736.43,52.14 L739.75,52.14 L743.07,52.14 L746.40,52.14 L749.72,52.14 L753.04,52.14 L756.37,52.14 L759.69,52.14 L763.01,52.14 L766.34,52.14 L769.66,52.14 L772.98,52.14 L776.31,52.14 L779.63,52.14 L782.95,52.14 L786.28,52.14 L789.60,52.14 L792.92,52.14 L796.25,52.14 L799.57,52.14 L802.89,52.14 L806.22,52.14 L809.54,52.14 L812.86,52.14 L816.19,52.14 L819.51,52.14 L822.83,52.14 L826.16,52.14 L829.48,52.14 L832.80,52.14 L836.13,52.14 L839.45,52.14 L842.77,52.14 L846.10,52.14 L849.42,52.14 L852.74,52.14 L856.07,52.14 L859.39,52.14 L862.71,52.14 L866.04,52.14 L869.36,52.14 L872.68,52.14 L876.01,52.14 L879.33,52.14 L882.65,52.14 L885.98,52.14 L889.30,52.14 L892.62,52.14 L895.95,52.14 L899.27,52.14 L902.59,52.14 L905.92,52.14 L909.24,52.14 L912.56,52.14 L915.89,52.14 L919.21,52.14 L922.53,52.14 L925.86,52.14 L929.18,52.14 L932.50,52.14 L935.83,52.14 L939.15,52.14 L942.47,52.14 L945.80,52.14 L949.12,52.14 L952.44,52.14 L955.77,52.14 L959.09,52.14 L962.41,52.14 L965.74,52.14 L969.06,52.14 L972.38,52.14 L975.71,52.14 L979.03,52.14 L982.35,52.14 L985.68,52.14 L989.00,52.14 L992.32,52.14 L995.65,52.14 L998.97,52.14 L1002.29,52.14 L1005.62,52.14 L1008.94,52.14 L1012.26,52.14 L1015.59,52.14 L1018.91,52.14 L1022.23,52.14 L1025.56,52.14 L1028.88,52.14 L1032.20,52.14 L1035.53,52.14 L1038.85,52.14 L1042.17,52.14 L1045.50,52.14 L1048.82,52.14 L1052.14,52.14 L1055.47,52.14 L1058.79,52.14 L1062.11,52.14 L1065.44,52.14 L1068.76,52.14 L1072.08,52.14 L1075.41,52.14 L1078.73,52.14 L1082.05,52.14 L1085.38,52.14 L1088.70,52.14 M540.35,692.56 L535.10,691.07 L529.93,689.56 L524.82,688.04 L519.79,686.50 L514.82,684.95 L509.92,683.38 L505.08,681.80 L500.30,680.20 L495.59,678.59 L490.93,676.96 L486.33,675.32 L481.79,673.66 L477.30,672.00 L472.86,670.32 L468.48,668.62 L464.15,666.92 L459.86,665.20 L455.63,663.46 L451.45,661.72 L447.31,659.97 L443.23,658.20 L439.18,656.42 L435.19,654.63 L431.23,652.83 L427.33,651.01 L423.46,649.19 L419.64,647.35 L415.86,645.51 L412.13,643.65 L408.43,641.79 L404.78,639.91 L401.16,638.02 L397.59,636.13 L394.05,634.22 L390.56,632.30 L387.10,630.38 L383.68,628.44 L380.30,626.50 L376.96,624.54 L373.65,622.58 L370.38,620.61 L367.15,618.63 L363.95,616.64 L360.79,614.64 L357.67,612.63 L354.58,610.62 L351.52,608.60 L348.50,606.56 L345.52,604.52 L342.57,602.48 L339.65,600.42 L336.77,598.36 L333.92,596.29 L331.10,594.21 L328.32,592.12 L325.57,590.03 L322.86,587.93 L320.17,585.82 L317.52,583.71 L314.90,581.58 L312.32,579.46 L309.76,577.32 L307.24,575.18 L304.75,573.03 L302.29,570.87 L299.87,568.71 L297.47,566.54 L295.11,564.37 L292.77,562.19 L290.47,560.00 L288.20,557.81 L285.96,555.61 L283.75,553.41 L281.57,551.20 L279.42,548.98 L277.30,546.76 L275.21,544.53 L273.16,542.30 L271.13,540.06 L269.13,537.82 L267.16,535.57 L265.22,533.32 L263.31,531.06 L261.44,528.80 L259.59,526.53 L257.77,524.26 L255.98,521.98 L254.22,519.70 L252.48,517.41 L250.78,515.12 L249.11,512.82 L247.46,510.52 L245.85,508.22 L244.26,505.91 L242.71,503.60 L241.18,501.28 L239.68,498.96 L238.21,496.64 L236.77,494.31 L235.35,491.98 L233.97,489.65 L232.61,487.31 L231.29,484.97 L229.99,482.62 L228.72,480.27 L227.47,477.92 L226.26,475.57 L225.08,473.21 L223.92,470.85 L222.79,468.48 L221.69,466.12 L220.62,463.75 L219.57,461.37 L218.56,459.00 L217.57,456.62 L216.61,454.24 L215.68,451.86 L214.78,449.48 L213.90,447.09 L213.05,444.70 L212.24,442.31 L211.44,439.91 L210.68,437.52 L209.95,435.12 L209.24,432.72 L208.56,430.32 L207.91,427.92 L207.28,425.51 L206.69,423.11 L206.12,420.70 L205.58,418.29 L205.07,415.88 L204.58,413.47 L204.12,411.06 L203.69,408.64 L203.29,406.23 L202.92,403.81 L202.57,401.40 L202.25,398.98 L201.96,396.56 L201.70,394.14 L201.47,391.72 L201.26,389.30 L201.08,386.88 L200.93,384.46 L200.80,382.04 L200.70,379.62 L200.64,377.19 L200.59,374.77 L200.58,372.35 L200.59,369.93 L200.64,367.51 L200.70,365.08 L200.80,362.66 L200.93,360.24 L201.08,357.82 L201.26,355.40 L201.47,352.98 L201.70,350.56 L201.96,348.14 L202.25,345.72 L202.57,343.30 L202.92,340.89 L203.29,338.47 L203.69,336.06 L204.12,333.64 L204.58,331.23 L205.07,328.82 L205.58,326.41 L206.12,324.00 L206.69,321.59 L207.28,319.19 L207.91,316.78 L208.56,314.38 L209.24,311.98 L209.95,309.58 L210.68,307.18 L211.44,304.79 L212.24,302.39 L213.05,300.00 L213.90,297.61 L214.78,295.22 L215.68,292.84 L216.61,290.46 L217.57,288.08 L218.56,285.70 L219.57,283.33 L220.62,280.95 L221.69,278.58 L222.79,276.22 L223.92,273.85 L225.08,271.49 L226.26,269.13 L227.47,266.78 L228.72,264.43 L229.99,262.08 L231.29,259.73 L232.61,257.39 L233.97,255.05 L235.35,252.72 L236.77,250.39 L238.21,248.06 L239.68,245.74 L241.18,243.42 L242.71,241.10 L244.26,238.79 L245.85,236.48 L247.46,234.18 L249.11,231.88 L250.78,229.58 L252.48,227.29 L254.22,225.00 L255.98,222.72 L257.77,220.44 L259.59,218.17 L261.44,215.90 L263.31,213.64 L265.22,211.38 L267.16,209.13 L269.13,206.88 L271.13,204.64 L273.16,202.40 L275.21,200.17 L277.30,197.94 L279.42,195.72 L281.57,193.50 L283.75,191.29 L285.96,189.09 L288.20,186.89 L290.47,184.70 L292.77,182.51 L295.11,180.33 L297.47,178.16 L299.87,175.99 L302.29,173.83 L304.75,171.67 L307.24,169.52 L309.76,167.38 L312.32,165.24 L314.90,163.12 L317.52,160.99 L320.17,158.88 L322.86,156.77 L325.57,154.67 L328.32,152.58 L331.10,150.49 L333.92,148.41 L336.77,146.34 L339.65,144.28 L342.57,142.22 L345.52,140.18 L348.50,138.14 L351.52,136.10 L354.58,134.08 L357.67,132.07 L360.79,130.06 L363.95,128.06 L367.15,126.07 L370.38,124.09 L373.65,122.12 L376.96,120.16 L380.30,118.20 L383.68,116.26 L387.10,114.32 L390.56,112.40 L394.05,110.48 L397.59,108.57 L401.16,106.68 L404.78,104.79 L408.43,102.91 L412.13,101.05 L415.86,99.19 L419.64,97.35 L423.46,95.51 L427.33,93.69 L431.23,91.87 L435.19,90.07 L439.18,88.28 L443.23,86.50 L447.31,84.73 L451.45,82.98 L455.63,81.24 L459.86,79.50 L464.15,77.78 L468.48,76.08 L472.86,74.38 L477.30,72.70 L481.79,71.04 L486.33,69.38 L490.93,67.74 L495.59,66.11 L500.30,64.50 L505.08,62.90 L509.92,61.32 L514.82,59.75 L519.79,58.20 L524.82,56.66 L529.93,55.14 L535.10,53.63 L540.35,52.14 M590.20,692.56 L586.00,691.07 L581.86,689.56 L577.78,688.04 L573.75,686.50 L569.78,684.95 L565.86,683.38 L561.98,681.80 L558.16,680.20 L554.39,678.59 L550.66,676.96 L546.98,675.32 L543.35,673.66 L539.76,672.00 L536.21,670.32 L532.70,668.62 L529.24,666.92 L525.81,665.20 L522.43,663.46 L519.08,661.72 L515.77,659.97 L512.50,658.20 L509.27,656.42 L506.07,654.63 L502.91,652.83 L499.78,651.01 L496.69,649.19 L493.63,647.35 L490.61,645.51 L487.62,643.65 L484.67,641.79 L481.74,639.91 L478.85,638.02 L475.99,636.13 L473.16,634.22 L470.37,632.30 L467.60,630.38 L464.87,628.44 L462.16,626.50 L459.49,624.54 L456.84,622.58 L454.23,620.61 L451.64,618.63 L449.08,616.64 L446.55,614.64 L444.05,612.63 L441.58,610.62 L439.14,608.60 L436.72,606.56 L434.33,604.52 L431.97,602.48 L429.64,600.42 L427.33,598.36 L425.06,596.29 L422.80,594.21 L420.58,592.12 L418.38,590.03 L416.21,587.93 L414.06,585.82 L411.94,583.71 L409.84,581.58 L407.77,579.46 L405.73,577.32 L403.71,575.18 L401.72,573.03 L399.75,570.87 L397.81,568.71 L395.90,566.54 L394.01,564.37 L392.14,562.19 L390.30,560.00 L388.48,557.81 L386.69,555.61 L384.92,553.41 L383.18,551.20 L381.46,548.98 L379.76,546.76 L378.09,544.53 L376.44,542.30 L374.82,540.06 L373.22,537.82 L371.65,535.57 L370.10,533.32 L368.57,531.06 L367.07,528.80 L365.59,526.53 L364.13,524.26 L362.70,521.98 L361.29,519.70 L359.91,517.41 L358.55,515.12 L357.21,512.82 L355.89,510.52 L354.60,508.22 L353.33,505.91 L352.08,503.60 L350.86,501.28 L349.66,498.96 L348.49,496.64 L347.33,494.31 L346.20,491.98 L345.09,489.65 L344.01,487.31 L342.95,484.97 L341.91,482.62 L340.89,480.27 L339.90,477.92 L338.93,475.57 L337.98,473.21 L337.05,470.85 L336.15,468.48 L335.27,466.12 L334.41,463.75 L333.58,461.37 L332.77,459.00 L331.98,456.62 L331.21,454.24 L330.46,451.86 L329.74,449.48 L329.04,447.09 L328.36,444.70 L327.71,442.31 L327.08,439.91 L326.46,437.52 L325.88,435.12 L325.31,432.72 L324.77,430.32 L324.25,427.92 L323.75,425.51 L323.27,423.11 L322.81,420.70 L322.38,418.29 L321.97,415.88 L321.58,413.47 L321.22,411.06 L320.88,408.64 L320.55,406.23 L320.26,403.81 L319.98,401.40 L319.72,398.98 L319.49,396.56 L319.28,394.14 L319.09,391.72 L318.93,389.30 L318.78,386.88 L318.66,384.46 L318.56,382.04 L318.48,379.62 L318.43,377.19 L318.40,374.77 L318.38,372.35 L318.40,369.93 L318.43,367.51 L318.48,365.08 L318.56,362.66 L318.66,360.24 L318.78,357.82 L318.93,355.40 L319.09,352.98 L319.28,350.56 L319.49,348.14 L319.72,345.72 L319.98,343.30 L320.26,340.89 L320.55,338.47 L320.88,336.06 L321.22,333.64 L321.58,331.23 L321.97,328.82 L322.38,326.41 L322.81,324.00 L323.27,321.59 L323.75,319.19 L324.25,316.78 L324.77,314.38 L325.31,311.98 L325.88,309.58 L326.46,307.18 L327.08,304.79 L327.71,302.39 L328.36,300.00 L329.04,297.61 L329.74,295.22 L330.46,292.84 L331.21,290.46 L331.98,288.08 L332.77,285.70 L333.58,283.33 L334.41,280.95 L335.27,278.58 L336.15,276.22 L337.05,273.85 L337.98,271.49 L338.93,269.13 L339.90,266.78 L340.89,264.43 L341.91,262.08 L342.95,259.73 L344.01,257.39 L345.09,255.05 L346.20,252.72 L347.33,250.39 L348.49,248.06 L349.66,245.74 L350.86,243.42 L352.08,241.10 L353.33,238.79 L354.60,236.48 L355.89,234.18 L357.21,231.88 L358.55,229.58 L359.91,227.29 L361.29,225.00 L362.70,222.72 L364.13,220.44 L365.59,218.17 L367.07,215.90 L368.57,213.64 L370.10,211.38 L371.65,209.13 L373.22,206.88 L374.82,204.64 L376.44,202.40 L378.09,200.17 L379.76,197.94 L381.46,195.72 L383.18,193.50 L384.92,191.29 L386.69,189.09 L388.48,186.89 L390.30,184.70 L392.14,182.51 L394.01,180.33 L395.90,178.16 L397.81,175.99 L399.75,173.83 L401.72,171.67 L403.71,169.52 L405.73,167.38 L407.77,165.24 L409.84,163.12 L411.94,160.99 L414.06,158.88 L416.21,156.77 L418.38,154.67 L420.58,152.58 L422.80,150.49 L425.06,148.41 L427.33,146.34 L429.64,144.28 L431.97,142.22 L434.33,140.18 L436.72,138.14 L439.14,136.10 L441.58,134.08 L444.05,132.07 L446.55,130.06 L449.08,128.06 L451.64,126.07 L454.23,124.09 L456.84,122.12 L459.49,120.16 L462.16,118.20 L464.87,116.26 L467.60,114.32 L470.37,112.40 L473.16,110.48 L475.99,108.57 L478.85,106.68 L481.74,104.79 L484.67,102.91 L487.62,101.05 L490.61,99.19 L493.63,97.35 L496.69,95.51 L499.78,93.69 L502.91,91.87 L506.07,90.07 L509.27,88.28 L512.50,86.50 L515.77,84.73 L519.08,82.98 L522.43,81.24 L525.81,79.50 L529.24,77.78 L532.70,76.08 L536.21,74.38 L539.76,72.70 L543.35,71.04 L546.98,69.38 L550.66,67.74 L554.39,66.11 L558.16,64.50 L561.98,62.90 L565.86,61.32 L569.78,59.75 L573.75,58.20 L577.78,56.66 L581.86,55.14 L586.00,53.63 L590.20,52.14 M640.05,692.56 L636.90,691.07 L633.80,689.56 L630.73,688.04 L627.71,686.50 L624.73,684.95 L621.79,683.38 L618.89,681.80 L616.02,680.20 L613.19,678.59 L610.40,676.96 L607.64,675.32 L604.91,673.66 L602.22,672.00 L599.56,670.32 L596.93,668.62 L594.33,666.92 L591.76,665.20 L589.22,663.46 L586.71,661.72 L584.23,659.97 L581.78,658.20 L579.35,656.42 L576.95,654.63 L574.58,652.83 L572.24,651.01 L569.92,649.19 L567.63,647.35 L565.36,645.51 L563.12,643.65 L560.90,641.79 L558.71,639.91 L556.54,638.02 L554.39,636.13 L552.27,634.22 L550.18,632.30 L548.10,630.38 L546.05,628.44 L544.02,626.50 L542.01,624.54 L540.03,622.58 L538.07,620.61 L536.13,618.63 L534.21,616.64 L532.32,614.64 L530.44,612.63 L528.59,610.62 L526.75,608.60 L524.94,606.56 L523.15,604.52 L521.38,602.48 L519.63,600.42 L517.90,598.36 L516.19,596.29 L514.50,594.21 L512.83,592.12 L511.18,590.03 L509.55,587.93 L507.94,585.82 L506.35,583.71 L504.78,581.58 L503.23,579.46 L501.70,577.32 L500.19,575.18 L498.69,573.03 L497.22,570.87 L495.76,568.71 L494.32,566.54 L492.90,564.37 L491.50,562.19 L490.12,560.00 L488.76,557.81 L487.42,555.61 L486.09,553.41 L484.78,551.20 L483.49,548.98 L482.22,546.76 L480.97,544.53 L479.73,542.30 L478.52,540.06 L477.32,537.82 L476.14,535.57 L474.97,533.32 L473.83,531.06 L472.70,528.80 L471.59,526.53 L470.50,524.26 L469.43,521.98 L468.37,519.70 L467.33,517.41 L466.31,515.12 L465.31,512.82 L464.32,510.52 L463.35,508.22 L462.40,505.91 L461.46,503.60 L460.55,501.28 L459.65,498.96 L458.76,496.64 L457.90,494.31 L457.05,491.98 L456.22,489.65 L455.41,487.31 L454.61,484.97 L453.83,482.62 L453.07,480.27 L452.32,477.92 L451.60,475.57 L450.89,473.21 L450.19,470.85 L449.51,468.48 L448.85,466.12 L448.21,463.75 L447.58,461.37 L446.98,459.00 L446.38,456.62 L445.81,454.24 L445.25,451.86 L444.71,449.48 L444.18,447.09 L443.67,444.70 L443.18,442.31 L442.71,439.91 L442.25,437.52 L441.81,435.12 L441.38,432.72 L440.97,430.32 L440.58,427.92 L440.21,425.51 L439.85,423.11 L439.51,420.70 L439.19,418.29 L438.88,415.88 L438.59,413.47 L438.31,411.06 L438.06,408.64 L437.82,406.23 L437.59,403.81 L437.38,401.40 L437.19,398.98 L437.02,396.56 L436.86,394.14 L436.72,391.72 L436.59,389.30 L436.49,386.88 L436.40,384.46 L436.32,382.04 L436.26,379.62 L436.22,377.19 L436.20,374.77 L436.19,372.35 L436.20,369.93 L436.22,367.51 L436.26,365.08 L436.32,362.66 L436.40,360.24 L436.49,357.82 L436.59,355.40 L436.72,352.98 L436.86,350.56 L437.02,348.14 L437.19,345.72 L437.38,343.30 L437.59,340.89 L437.82,338.47 L438.06,336.06 L438.31,333.64 L438.59,331.23 L438.88,328.82 L439.19,326.41 L439.51,324.00 L439.85,321.59 L440.21,319.19 L440.58,316.78 L440.97,314.38 L441.38,311.98 L441.81,309.58 L442.25,307.18 L442.71,304.79 L443.18,302.39 L443.67,300.00 L444.18,297.61 L444.71,295.22 L445.25,292.84 L445.81,290.46 L446.38,288.08 L446.98,285.70 L447.58,283.33 L448.21,280.95 L448.85,278.58 L449.51,276.22 L450.19,273.85 L450.89,271.49 L451.60,269.13 L452.32,266.78 L453.07,264.43 L453.83,262.08 L454.61,259.73 L455.41,257.39 L456.22,255.05 L457.05,252.72 L457.90,250.39 L458.76,248.06 L459.65,245.74 L460.55,243.42 L461.46,241.10 L462.40,238.79 L463.35,236.48 L464.32,234.18 L465.31,231.88 L466.31,229.58 L467.33,227.29 L468.37,225.00 L469.43,222.72 L470.50,220.44 L471.59,218.17 L472.70,215.90 L473.83,213.64 L474.97,211.38 L476.14,209.13 L477.32,206.88 L478.52,204.64 L479.73,202.40 L480.97,200.17 L482.22,197.94 L483.49,195.72 L484.78,193.50 L486.09,191.29 L487.42,189.09 L488.76,186.89 L490.12,184.70 L491.50,182.51 L492.90,180.33 L494.32,178.16 L495.76,175.99 L497.22,173.83 L498.69,171.67 L500.19,169.52 L501.70,167.38 L503.23,165.24 L504.78,163.12 L506.35,160.99 L507.94,158.88 L509.55,156.77 L511.18,154.67 L512.83,152.58 L514.50,150.49 L516.19,148.41 L517.90,146.34 L519.63,144.28 L521.38,142.22 L523.15,140.18 L524.94,138.14 L526.75,136.10 L528.59,134.08 L530.44,132.07 L532.32,130.06 L534.21,128.06 L536.13,126.07 L538.07,124.09 L540.03,122.12 L542.01,120.16 L544.02,118.20 L546.05,116.26 L548.10,114.32 L550.18,112.40 L552.27,110.48 L554.39,108.57 L556.54,106.68 L558.71,104.79 L560.90,102.91 L563.12,101.05 L565.36,99.19 L567.63,97.35 L569.92,95.51 L572.24,93.69 L574.58,91.87 L576.95,90.07 L579.35,88.28 L581.78,86.50 L584.23,84.73 L586.71,82.98 L589.22,81.24 L591.76,79.50 L594.33,77.78 L596.93,76.08 L599.56,74.38 L602.22,72.70 L604.91,71.04 L607.64,69.38 L610.40,67.74 L613.19,66.11 L616.02,64.50 L618.89,62.90 L621.79,61.32 L624.73,59.75 L627.71,58.20 L630.73,56.66 L633.80,55.14 L636.90,53.63 L640.05,52.14 M689.90,692.56 L687.80,691.07 L685.73,689.56 L683.69,688.04 L681.68,686.50 L679.69,684.95 L677.73,683.38 L675.79,681.80 L673.88,680.20 L672.00,678.59 L670.13,676.96 L668.29,675.32 L666.47,673.66 L664.68,672.00 L662.90,670.32 L661.15,668.62 L659.42,666.92 L657.71,665.20 L656.01,663.46 L654.34,661.72 L652.69,659.97 L651.05,658.20 L649.43,656.42 L647.83,654.63 L646.25,652.83 L644.69,651.01 L643.15,649.19 L641.62,647.35 L640.11,645.51 L638.61,643.65 L637.13,641.79 L635.67,639.91 L634.23,638.02 L632.80,636.13 L631.38,634.22 L629.98,632.30 L628.60,630.38 L627.23,628.44 L625.88,626.50 L624.54,624.54 L623.22,622.58 L621.91,620.61 L620.62,618.63 L619.34,616.64 L618.08,614.64 L616.83,612.63 L615.59,610.62 L614.37,608.60 L613.16,606.56 L611.97,604.52 L610.79,602.48 L609.62,600.42 L608.47,598.36 L607.33,596.29 L606.20,594.21 L605.09,592.12 L603.99,590.03 L602.90,587.93 L601.83,585.82 L600.77,583.71 L599.72,581.58 L598.69,579.46 L597.67,577.32 L596.66,575.18 L595.66,573.03 L594.68,570.87 L593.71,568.71 L592.75,566.54 L591.80,564.37 L590.87,562.19 L589.95,560.00 L589.04,557.81 L588.14,555.61 L587.26,553.41 L586.39,551.20 L585.53,548.98 L584.68,546.76 L583.85,544.53 L583.02,542.30 L582.21,540.06 L581.41,537.82 L580.62,535.57 L579.85,533.32 L579.09,531.06 L578.33,528.80 L577.59,526.53 L576.87,524.26 L576.15,521.98 L575.45,519.70 L574.75,517.41 L574.07,515.12 L573.40,512.82 L572.75,510.52 L572.10,508.22 L571.47,505.91 L570.84,503.60 L570.23,501.28 L569.63,498.96 L569.04,496.64 L568.47,494.31 L567.90,491.98 L567.35,489.65 L566.81,487.31 L566.27,484.97 L565.75,482.62 L565.25,480.27 L564.75,477.92 L564.26,475.57 L563.79,473.21 L563.33,470.85 L562.88,468.48 L562.44,466.12 L562.01,463.75 L561.59,461.37 L561.18,459.00 L560.79,456.62 L560.40,454.24 L560.03,451.86 L559.67,449.48 L559.32,447.09 L558.98,444.70 L558.65,442.31 L558.34,439.91 L558.03,437.52 L557.74,435.12 L557.46,432.72 L557.18,430.32 L556.92,427.92 L556.67,425.51 L556.43,423.11 L556.21,420.70 L555.99,418.29 L555.79,415.88 L555.59,413.47 L555.41,411.06 L555.24,408.64 L555.08,406.23 L554.93,403.81 L554.79,401.40 L554.66,398.98 L554.55,396.56 L554.44,394.14 L554.35,391.72 L554.26,389.30 L554.19,386.88 L554.13,384.46 L554.08,382.04 L554.04,379.62 L554.01,377.19 L554.00,374.77 L553.99,372.35 L554.00,369.93 L554.01,367.51 L554.04,365.08 L554.08,362.66 L554.13,360.24 L554.19,357.82 L554.26,355.40 L554.35,352.98 L554.44,350.56 L554.55,348.14 L554.66,345.72 L554.79,343.30 L554.93,340.89 L555.08,338.47 L555.24,336.06 L555.41,333.64 L555.59,331.23 L555.79,328.82 L555.99,326.41 L556.21,324.00 L556.43,321.59 L556.67,319.19 L556.92,316.78 L557.18,314.38 L557.46,311.98 L557.74,309.58 L558.03,307.18 L558.34,304.79 L558.65,302.39 L558.98,300.00 L559.32,297.61 L559.67,295.22 L560.03,292.84 L560.40,290.46 L560.79,288.08 L561.18,285.70 L561.59,283.33 L562.01,280.95 L562.44,278.58 L562.88,276.22 L563.33,273.85 L563.79,271.49 L564.26,269.13 L564.75,266.78 L565.25,264.43 L565.75,262.08 L566.27,259.73 L566.81,257.39 L567.35,255.05 L567.90,252.72 L568.47,250.39 L569.04,248.06 L569.63,245.74 L570.23,243.42 L570.84,241.10 L571.47,238.79 L572.10,236.48 L572.75,234.18 L573.40,231.88 L574.07,229.58 L574.75,227.29 L575.45,225.00 L576.15,222.72 L576.87,220.44 L577.59,218.17 L578.33,215.90 L579.09,213.64 L579.85,211.38 L580.62,209.13 L581.41,206.88 L582.21,204.64 L583.02,202.40 L583.85,200.17 L584.68,197.94 L585.53,195.72 L586.39,193.50 L587.26,191.29 L588.14,189.09 L589.04,186.89 L589.95,184.70 L590.87,182.51 L591.80,180.33 L592.75,178.16 L593.71,175.99 L594.68,173.83 L595.66,171.67 L596.66,169.52 L597.67,167.38 L598.69,165.24 L599.72,163.12 L600.77,160.99 L601.83,158.88 L602.90,156.77 L603.99,154.67 L605.09,152.58 L606.20,150.49 L607.33,148.41 L608.47,146.34 L609.62,144.28 L610.79,142.22 L611.97,140.18 L613.16,138.14 L614.37,136.10 L615.59,134.08 L616.83,132.07 L618.08,130.06 L619.34,128.06 L620.62,126.07 L621.91,124.09 L623.22,122.12 L624.54,120.16 L625.88,118.20 L627.23,116.26 L628.60,114.32 L629.98,112.40 L631.38,110.48 L632.80,108.57 L634.23,106.68 L635.67,104.79 L637.13,102.91 L638.61,101.05 L640.11,99.19 L641.62,97.35 L643.15,95.51 L644.69,93.69 L646.25,91.87 L647.83,90.07 L649.43,88.28 L651.05,86.50 L652.69,84.73 L654.34,82.98 L656.01,81.24 L657.71,79.50 L659.42,77.78 L661.15,76.08 L662.90,74.38 L664.68,72.70 L666.47,71.04 L668.29,69.38 L670.13,67.74 L672.00,66.11 L673.88,64.50 L675.79,62.90 L677.73,61.32 L679.69,59.75 L681.68,58.20 L683.69,56.66 L685.73,55.14 L687.80,53.63 L689.90,52.14 M739.75,692.56 L738.70,691.07 L737.67,689.56 L736.64,688.04 L735.64,686.50 L734.64,684.95 L733.66,683.38 L732.70,681.80 L731.74,680.20 L730.80,678.59 L729.87,676.96 L728.95,675.32 L728.04,673.66 L727.14,672.00 L726.25,670.32 L725.38,668.62 L724.51,666.92 L723.65,665.20 L722.81,663.46 L721.97,661.72 L721.14,659.97 L720.33,658.20 L719.52,656.42 L718.72,654.63 L717.93,652.83 L717.15,651.01 L716.37,649.19 L715.61,647.35 L714.85,645.51 L714.11,643.65 L713.37,641.79 L712.64,639.91 L711.91,638.02 L711.20,636.13 L710.49,634.22 L709.79,632.30 L709.10,630.38 L708.42,628.44 L707.74,626.50 L707.07,624.54 L706.41,622.58 L705.76,620.61 L705.11,618.63 L704.47,616.64 L703.84,614.64 L703.21,612.63 L702.60,610.62 L701.98,608.60 L701.38,606.56 L700.78,604.52 L700.19,602.48 L699.61,600.42 L699.03,598.36 L698.46,596.29 L697.90,594.21 L697.34,592.12 L696.79,590.03 L696.25,587.93 L695.71,585.82 L695.18,583.71 L694.66,581.58 L694.14,579.46 L693.63,577.32 L693.13,575.18 L692.63,573.03 L692.14,570.87 L691.65,568.71 L691.17,566.54 L690.70,564.37 L690.23,562.19 L689.77,560.00 L689.32,557.81 L688.87,555.61 L688.43,553.41 L687.99,551.20 L687.56,548.98 L687.14,546.76 L686.72,544.53 L686.31,542.30 L685.91,540.06 L685.51,537.82 L685.11,535.57 L684.72,533.32 L684.34,531.06 L683.97,528.80 L683.60,526.53 L683.23,524.26 L682.88,521.98 L682.52,519.70 L682.18,517.41 L681.84,515.12 L681.50,512.82 L681.17,510.52 L680.85,508.22 L680.53,505.91 L680.22,503.60 L679.92,501.28 L679.62,498.96 L679.32,496.64 L679.03,494.31 L678.75,491.98 L678.47,489.65 L678.20,487.31 L677.94,484.97 L677.68,482.62 L677.42,480.27 L677.17,477.92 L676.93,475.57 L676.70,473.21 L676.46,470.85 L676.24,468.48 L676.02,466.12 L675.80,463.75 L675.59,461.37 L675.39,459.00 L675.19,456.62 L675.00,454.24 L674.82,451.86 L674.64,449.48 L674.46,447.09 L674.29,444.70 L674.13,442.31 L673.97,439.91 L673.82,437.52 L673.67,435.12 L673.53,432.72 L673.39,430.32 L673.26,427.92 L673.14,425.51 L673.02,423.11 L672.90,420.70 L672.80,418.29 L672.69,415.88 L672.60,413.47 L672.50,411.06 L672.42,408.64 L672.34,406.23 L672.26,403.81 L672.19,401.40 L672.13,398.98 L672.07,396.56 L672.02,394.14 L671.97,391.72 L671.93,389.30 L671.90,386.88 L671.87,384.46 L671.84,382.04 L671.82,379.62 L671.81,377.19 L671.80,374.77 L671.80,372.35 L671.80,369.93 L671.81,367.51 L671.82,365.08 L671.84,362.66 L671.87,360.24 L671.90,357.82 L671.93,355.40 L671.97,352.98 L672.02,350.56 L672.07,348.14 L672.13,345.72 L672.19,343.30 L672.26,340.89 L672.34,338.47 L672.42,336.06 L672.50,333.64 L672.60,331.23 L672.69,328.82 L672.80,326.41 L672.90,324.00 L673.02,321.59 L673.14,319.19 L673.26,316.78 L673.39,314.38 L673.53,311.98 L673.67,309.58 L673.82,307.18 L673.97,304.79 L674.13,302.39 L674.29,300.00 L674.46,297.61 L674.64,295.22 L674.82,292.84 L675.00,290.46 L675.19,288.08 L675.39,285.70 L675.59,283.33 L675.80,280.95 L676.02,278.58 L676.24,276.22 L676.46,273.85 L676.70,271.49 L676.93,269.13 L677.17,266.78 L677.42,264.43 L677.68,262.08 L677.94,259.73 L678.20,257.39 L678.47,255.05 L678.75,252.72 L679.03,250.39 L679.32,248.06 L679.62,245.74 L679.92,243.42 L680.22,241.10 L680.53,238.79 L680.85,236.48 L681.17,234.18 L681.50,231.88 L681.84,229.58 L682.18,227.29 L682.52,225.00 L682.88,222.72 L683.23,220.44 L683.60,218.17 L683.97,215.90 L684.34,213.64 L684.72,211.38 L685.11,209.13 L685.51,206.88 L685.91,204.64 L686.31,202.40 L686.72,200.17 L687.14,197.94 L687.56,195.72 L687.99,193.50 L688.43,191.29 L688.87,189.09 L689.32,186.89 L689.77,184.70 L690.23,182.51 L690.70,180.33 L691.17,178.16 L691.65,175.99 L692.14,173.83 L692.63,171.67 L693.13,169.52 L693.63,167.38 L694.14,165.24 L694.66,163.12 L695.18,160.99 L695.71,158.88 L696.25,156.77 L696.79,154.67 L697.34,152.58 L697.90,150.49 L698.46,148.41 L699.03,146.34 L699.61,144.28 L700.19,142.22 L700.78,140.18 L701.38,138.14 L701.98,136.10 L702.60,134.08 L703.21,132.07 L703.84,130.06 L704.47,128.06 L705.11,126.07 L705.76,124.09 L706.41,122.12 L707.07,120.16 L707.74,118.20 L708.42,116.26 L709.10,114.32 L709.79,112.40 L710.49,110.48 L711.20,108.57 L711.91,106.68 L712.64,104.79 L713.37,102.91 L714.11,101.05 L714.85,99.19 L715.61,97.35 L716.37,95.51 L717.15,93.69 L717.93,91.87 L718.72,90.07 L719.52,88.28 L720.33,86.50 L721.14,84.73 L721.97,82.98 L722.81,81.24 L723.65,79.50 L724.51,77.78 L725.38,76.08 L726.25,74.38 L727.14,72.70 L728.04,71.04 L728.95,69.38 L729.87,67.74 L730.80,66.11 L731.74,64.50 L732.70,62.90 L733.66,61.32 L734.64,59.75 L735.64,58.20 L736.64,56.66 L737.67,55.14 L738.70,53.63 L739.75,52.14 M789.60,692.56 L789.60,691.07 L789.60,689.56 L789.60,688.04 L789.60,686.50 L789.60,684.95 L789.60,683.38 L789.60,681.80 L789.60,680.20 L789.60,678.59 L789.60,676.96 L789.60,675.32 L789.60,673.66 L789.60,672.00 L789.60,670.32 L789.60,668.62 L789.60,666.92 L789.60,665.20 L789.60,663.46 L789.60,661.72 L789.60,659.97 L789.60,658.20 L789.60,656.42 L789.60,654.63 L789.60,652.83 L789.60,651.01 L789.60,649.19 L789.60,647.35 L789.60,645.51 L789.60,643.65 L789.60,641.79 L789.60,639.91 L789.60,638.02 L789.60,636.13 L789.60,634.22 L789.60,632.30 L789.60,630.38 L789.60,628.44 L789.60,626.50 L789.60,624.54 L789.60,622.58 L789.60,620.61 L789.60,618.63 L789.60,616.64 L789.60,614.64 L789.60,612.63 L789.60,610.62 L789.60,608.60 L789.60,606.56 L789.60,604.52 L789.60,602.48 L789.60,600.42 L789.60,598.36 L789.60,596.29 L789.60,594.21 L789.60,592.12 L789.60,590.03 L789.60,587.93 L789.60,585.82 L789.60,583.71 L789.60,581.58 L789.60,579.46 L789.60,577.32 L789.60,575.18 L789.60,573.03 L789.60,570.87 L789.60,568.71 L789.60,566.54 L789.60,564.37 L789.60,562.19 L789.60,560.00 L789.60,557.81 L789.60,555.61 L789.60,553.41 L789.60,551.20 L789.60,548.98 L789.60,546.76 L789.60,544.53 L789.60,542.30 L789.60,540.06 L789.60,537.82 L789.60,535.57 L789.60,533.32 L789.60,531.06 L789.60,528.80 L789.60,526.53 L789.60,524.26 L789.60,521.98 L789.60,519.70 L789.60,517.41 L789.60,515.12 L789.60,512.82 L789.60,510.52 L789.60,508.22 L789.60,505.91 L789.60,503.60 L789.60,501.28 L789.60,498.96 L789.60,496.64 L789.60,494.31 L789.60,491.98 L789.60,489.65 L789.60,487.31 L789.60,484.97 L789.60,482.62 L789.60,480.27 L789.60,477.92 L789.60,475.57 L789.60,473.21 L789.60,470.85 L789.60,468.48 L789.60,466.12 L789.60,463.75 L789.60,461.37 L789.60,459.00 L789.60,456.62 L789.60,454.24 L789.60,451.86 L789.60,449.48 L789.60,447.09 L789.60,444.70 L789.60,442.31 L789.60,439.91 L789.60,437.52 L789.60,435.12 L789.60,432.72 L789.60,430.32 L789.60,427.92 L789.60,425.51 L789.60,423.11 L789.60,420.70 L789.60,418.29 L789.60,415.88 L789.60,413.47 L789.60,411.06 L789.60,408.64 L789.60,406.23 L789.60,403.81 L789.60,401.40 L789.60,398.98 L789.60,396.56 L789.60,394.14 L789.60,391.72 L789.60,389.30 L789.60,386.88 L789.60,384.46 L789.60,382.04 L789.60,379.62 L789.60,377.19 L789.60,374.77 L789.60,372.35 L789.60,369.93 L789.60,367.51 L789.60,365.08 L789.60,362.66 L789.60,360.24 L789.60,357.82 L789.60,355.40 L789.60,352.98 L789.60,350.56 L789.60,348.14 L789.60,345.72 L789.60,343.30 L789.60,340.89 L789.60,338.47 L789.60,336.06 L789.60,333.64 L789.60,331.23 L789.60,328.82 L789.60,326.41 L789.60,324.00 L789.60,321.59 L789.60,319.19 L789.60,316.78 L789.60,314.38 L789.60,311.98 L789.60,309.58 L789.60,307.18 L789.60,304.79 L789.60,302.39 L789.60,300.00 L789.60,297.61 L789.60,295.22 L789.60,292.84 L789.60,290.46 L789.60,288.08 L789.60,285.70 L789.60,283.33 L789.60,280.95 L789.60,278.58 L789.60,276.22 L789.60,273.85 L789.60,271.49 L789.60,269.13 L789.60,266.78 L789.60,264.43 L789.60,262.08 L789.60,259.73 L789.60,257.39 L789.60,255.05 L789.60,252.72 L789.60,250.39 L789.60,248.06 L789.60,245.74 L789.60,243.42 L789.60,241.10 L789.60,238.79 L789.60,236.48 L789.60,234.18 L789.60,231.88 L789.60,229.58 L789.60,227.29 L789.60,225.00 L789.60,222.72 L789.60,220.44 L789.60,218.17 L789.60,215.90 L789.60,213.64 L789.60,211.38 L789.60,209.13 L789.60,206.88 L789.60,204.64 L789.60,202.40 L789.60,200.17 L789.60,197.94 L789.60,195.72 L789.60,193.50 L789.60,191.29 L789.60,189.09 L789.60,186.89 L789.60,184.70 L789.60,182.51 L789.60,180.33 L789.60,178.16 L789.60,175.99 L789.60,173.83 L789.60,171.67 L789.60,169.52 L789.60,167.38 L789.60,165.24 L789.60,163.12 L789.60,160.99 L789.60,158.88 L789.60,156.77 L789.60,154.67 L789.60,152.58 L789.60,150.49 L789.60,148.41 L789.60,146.34 L789.60,144.28 L789.60,142.22 L789.60,140.18 L789.60,138.14 L789.60,136.10 L789.60,134.08 L789.60,132.07 L789.60,130.06 L789.60,128.06 L789.60,126.07 L789.60,124.09 L789.60,122.12 L789.60,120.16 L789.60,118.20 L789.60,116.26 L789.60,114.32 L789.60,112.40 L789.60,110.48 L789.60,108.57 L789.60,106.68 L789.60,104.79 L789.60,102.91 L789.60,101.05 L789.60,99.19 L789.60,97.35 L789.60,95.51 L789.60,93.69 L789.60,91.87 L789.60,90.07 L789.60,88.28 L789.60,86.50 L789.60,84.73 L789.60,82.98 L789.60,81.24 L789.60,79.50 L789.60,77.78 L789.60,76.08 L789.60,74.38 L789.60,72.70 L789.60,71.04 L789.60,69.38 L789.60,67.74 L789.60,66.11 L789.60,64.50 L789.60,62.90 L789.60,61.32 L789.60,59.75 L789.60,58.20 L789.60,56.66 L789.60,55.14 L789.60,53.63 L789.60,52.14 M839.45,692.56 L840.50,691.07 L841.53,689.56 L842.56,688.04 L843.56,686.50 L844.56,684.95 L845.54,683.38 L846.50,681.80 L847.46,680.20 L848.40,678.59 L849.33,676.96 L850.25,675.32 L851.16,673.66 L852.06,672.00 L852.95,670.32 L853.82,668.62 L854.69,666.92 L855.55,665.20 L856.39,663.46 L857.23,661.72 L858.06,659.97 L858.87,658.20 L859.68,656.42 L860.48,654.63 L861.27,652.83 L862.05,651.01 L862.83,649.19 L863.59,647.35 L864.35,645.51 L865.09,643.65 L865.83,641.79 L866.56,639.91 L867.29,638.02 L868.00,636.13 L868.71,634.22 L869.41,632.30 L870.10,630.38 L870.78,628.44 L871.46,626.50 L872.13,624.54 L872.79,622.58 L873.44,620.61 L874.09,618.63 L874.73,616.64 L875.36,614.64 L875.99,612.63 L876.60,610.62 L877.22,608.60 L877.82,606.56 L878.42,604.52 L879.01,602.48 L879.59,600.42 L880.17,598.36 L880.74,596.29 L881.30,594.21 L881.86,592.12 L882.41,590.03 L882.95,587.93 L883.49,585.82 L884.02,583.71 L884.54,581.58 L885.06,579.46 L885.57,577.32 L886.07,575.18 L886.57,573.03 L887.06,570.87 L887.55,568.71 L888.03,566.54 L888.50,564.37 L888.97,562.19 L889.43,560.00 L889.88,557.81 L890.33,555.61 L890.77,553.41 L891.21,551.20 L891.64,548.98 L892.06,546.76 L892.48,544.53 L892.89,542.30 L893.29,540.06 L893.69,537.82 L894.09,535.57 L894.48,533.32 L894.86,531.06 L895.23,528.80 L895.60,526.53 L895.97,524.26 L896.32,521.98 L896.68,519.70 L897.02,517.41 L897.36,515.12 L897.70,512.82 L898.03,510.52 L898.35,508.22 L898.67,505.91 L898.98,503.60 L899.28,501.28 L899.58,498.96 L899.88,496.64 L900.17,494.31 L900.45,491.98 L900.73,489.65 L901.00,487.31 L901.26,484.97 L901.52,482.62 L901.78,480.27 L902.03,477.92 L902.27,475.57 L902.50,473.21 L902.74,470.85 L902.96,468.48 L903.18,466.12 L903.40,463.75 L903.61,461.37 L903.81,459.00 L904.01,456.62 L904.20,454.24 L904.38,451.86 L904.56,449.48 L904.74,447.09 L904.91,444.70 L905.07,442.31 L905.23,439.91 L905.38,437.52 L905.53,435.12 L905.67,432.72 L905.81,430.32 L905.94,427.92 L906.06,425.51 L906.18,423.11 L906.30,420.70 L906.40,418.29 L906.51,415.88 L906.60,413.47 L906.70,411.06 L906.78,408.64 L906.86,406.23 L906.94,403.81 L907.01,401.40 L907.07,398.98 L907.13,396.56 L907.18,394.14 L907.23,391.72 L907.27,389.30 L907.30,386.88 L907.33,384.46 L907.36,382.04 L907.38,379.62 L907.39,377.19 L907.40,374.77 L907.40,372.35 L907.40,369.93 L907.39,367.51 L907.38,365.08 L907.36,362.66 L907.33,360.24 L907.30,357.82 L907.27,355.40 L907.23,352.98 L907.18,350.56 L907.13,348.14 L907.07,345.72 L907.01,343.30 L906.94,340.89 L906.86,338.47 L906.78,336.06 L906.70,333.64 L906.60,331.23 L906.51,328.82 L906.40,326.41 L906.30,324.00 L906.18,321.59 L906.06,319.19 L905.94,316.78 L905.81,314.38 L905.67,311.98 L905.53,309.58 L905.38,307.18 L905.23,304.79 L905.07,302.39 L904.91,300.00 L904.74,297.61 L904.56,295.22 L904.38,292.84 L904.20,290.46 L904.01,288.08 L903.81,285.70 L903.61,283.33 L903.40,280.95 L903.18,278.58 L902.96,276.22 L902.74,273.85 L902.50,271.49 L902.27,269.13 L902.03,266.78 L901.78,264.43 L901.52,262.08 L901.26,259.73 L901.00,257.39 L900.73,255.05 L900.45,252.72 L900.17,250.39 L899.88,248.06 L899.58,245.74 L899.28,243.42 L898.98,241.10 L898.67,238.79 L898.35,236.48 L898.03,234.18 L897.70,231.88 L897.36,229.58 L897.02,227.29 L896.68,225.00 L896.32,222.72 L895.97,220.44 L895.60,218.17 L895.23,215.90 L894.86,213.64 L894.48,211.38 L894.09,209.13 L893.69,206.88 L893.29,204.64 L892.89,202.40 L892.48,200.17 L892.06,197.94 L891.64,195.72 L891.21,193.50 L890.77,191.29 L890.33,189.09 L889.88,186.89 L889.43,184.70 L888.97,182.51 L888.50,180.33 L888.03,178.16 L887.55,175.99 L887.06,173.83 L886.57,171.67 L886.07,169.52 L885.57,167.38 L885.06,165.24 L884.54,163.12 L884.02,160.99 L883.49,158.88 L882.95,156.77 L882.41,154.67 L881.86,152.58 L881.30,150.49 L880.74,148.41 L880.17,146.34 L879.59,144.28 L879.01,142.22 L878.42,140.18 L877.82,138.14 L877.22,136.10 L876.60,134.08 L875.99,132.07 L875.36,130.06 L874.73,128.06 L874.09,126.07 L873.44,124.09 L872.79,122.12 L872.13,120.16 L871.46,118.20 L870.78,116.26 L870.10,114.32 L869.41,112.40 L868.71,110.48 L868.00,108.57 L867.29,106.68 L866.56,104.79 L865.83,102.91 L865.09,101.05 L864.35,99.19 L863.59,97.35 L862.83,95.51 L862.05,93.69 L861.27,91.87 L860.48,90.07 L859.68,88.28 L858.87,86.50 L858.06,84.73 L857.23,82.98 L856.39,81.24 L855.55,79.50 L854.69,77.78 L853.82,76.08 L852.95,74.38 L852.06,72.70 L851.16,71.04 L850.25,69.38 L849.33,67.74 L848.40,66.11 L847.46,64.50 L846.50,62.90 L845.54,61.32 L844.56,59.75 L843.56,58.20 L842.56,56.66 L841.53,55.14 L840.50,53.63 L839.45,52.14 M889.30,692.56 L891.40,691.07 L893.47,689.56 L895.51,688.04 L897.52,686.50 L899.51,684.95 L901.47,683.38 L903.41,681.80 L905.32,680.20 L907.20,678.59 L909.07,676.96 L910.91,675.32 L912.73,673.66 L914.52,672.00 L916.30,670.32 L918.05,668.62 L919.78,666.92 L921.49,665.20 L923.19,663.46 L924.86,661.72 L926.51,659.97 L928.15,658.20 L929.77,656.42 L931.37,654.63 L932.95,652.83 L934.51,651.01 L936.05,649.19 L937.58,647.35 L939.09,645.51 L940.59,643.65 L942.07,641.79 L943.53,639.91 L944.97,638.02 L946.40,636.13 L947.82,634.22 L949.22,632.30 L950.60,630.38 L951.97,628.44 L953.32,626.50 L954.66,624.54 L955.98,622.58 L957.29,620.61 L958.58,618.63 L959.86,616.64 L961.12,614.64 L962.37,612.63 L963.61,610.62 L964.83,608.60 L966.04,606.56 L967.23,604.52 L968.41,602.48 L969.58,600.42 L970.73,598.36 L971.87,596.29 L973.00,594.21 L974.11,592.12 L975.21,590.03 L976.30,587.93 L977.37,585.82 L978.43,583.71 L979.48,581.58 L980.51,579.46 L981.53,577.32 L982.54,575.18 L983.54,573.03 L984.52,570.87 L985.49,568.71 L986.45,566.54 L987.40,564.37 L988.33,562.19 L989.25,560.00 L990.16,557.81 L991.06,555.61 L991.94,553.41 L992.81,551.20 L993.67,548.98 L994.52,546.76 L995.35,544.53 L996.18,542.30 L996.99,540.06 L997.79,537.82 L998.58,535.57 L999.35,533.32 L1000.11,531.06 L1000.87,528.80 L1001.61,526.53 L1002.33,524.26 L1003.05,521.98 L1003.75,519.70 L1004.45,517.41 L1005.13,515.12 L1005.80,512.82 L1006.45,510.52 L1007.10,508.22 L1007.73,505.91 L1008.36,503.60 L1008.97,501.28 L1009.57,498.96 L1010.16,496.64 L1010.73,494.31 L1011.30,491.98 L1011.85,489.65 L1012.39,487.31 L1012.93,484.97 L1013.45,482.62 L1013.95,480.27 L1014.45,477.92 L1014.94,475.57 L1015.41,473.21 L1015.87,470.85 L1016.32,468.48 L1016.76,466.12 L1017.19,463.75 L1017.61,461.37 L1018.02,459.00 L1018.41,456.62 L1018.80,454.24 L1019.17,451.86 L1019.53,449.48 L1019.88,447.09 L1020.22,444.70 L1020.55,442.31 L1020.86,439.91 L1021.17,437.52 L1021.46,435.12 L1021.74,432.72 L1022.02,430.32 L1022.28,427.92 L1022.53,425.51 L1022.77,423.11 L1022.99,420.70 L1023.21,418.29 L1023.41,415.88 L1023.61,413.47 L1023.79,411.06 L1023.96,408.64 L1024.12,406.23 L1024.27,403.81 L1024.41,401.40 L1024.54,398.98 L1024.65,396.56 L1024.76,394.14 L1024.85,391.72 L1024.94,389.30 L1025.01,386.88 L1025.07,384.46 L1025.12,382.04 L1025.16,379.62 L1025.19,377.19 L1025.20,374.77 L1025.21,372.35 L1025.20,369.93 L1025.19,367.51 L1025.16,365.08 L1025.12,362.66 L1025.07,360.24 L1025.01,357.82 L1024.94,355.40 L1024.85,352.98 L1024.76,350.56 L1024.65,348.14 L1024.54,345.72 L1024.41,343.30 L1024.27,340.89 L1024.12,338.47 L1023.96,336.06 L1023.79,333.64 L1023.61,331.23 L1023.41,328.82 L1023.21,326.41 L1022.99,324.00 L1022.77,321.59 L1022.53,319.19 L1022.28,316.78 L1022.02,314.38 L1021.74,311.98 L1021.46,309.58 L1021.17,307.18 L1020.86,304.79 L1020.55,302.39 L1020.22,300.00 L1019.88,297.61 L1019.53,295.22 L1019.17,292.84 L1018.80,290.46 L1018.41,288.08 L1018.02,285.70 L1017.61,283.33 L1017.19,280.95 L1016.76,278.58 L1016.32,276.22 L1015.87,273.85 L1015.41,271.49 L1014.94,269.13 L1014.45,266.78 L1013.95,264.43 L1013.45,262.08 L1012.93,259.73 L1012.39,257.39 L1011.85,255.05 L1011.30,252.72 L1010.73,250.39 L1010.16,248.06 L1009.57,245.74 L1008.97,243.42 L1008.36,241.10 L1007.73,238.79 L1007.10,236.48 L1006.45,234.18 L1005.80,231.88 L1005.13,229.58 L1004.45,227.29 L1003.75,225.00 L1003.05,222.72 L1002.33,220.44 L1001.61,218.17 L1000.87,215.90 L1000.11,213.64 L999.35,211.38 L998.58,209.13 L997.79,206.88 L996.99,204.64 L996.18,202.40 L995.35,200.17 L994.52,197.94 L993.67,195.72 L992.81,193.50 L991.94,191.29 L991.06,189.09 L990.16,186.89 L989.25,184.70 L988.33,182.51 L987.40,180.33 L986.45,178.16 L985.49,175.99 L984.52,173.83 L983.54,171.67 L982.54,169.52 L981.53,167.38 L980.51,165.24 L979.48,163.12 L978.43,160.99 L977.37,158.88 L976.30,156.77 L975.21,154.67 L974.11,152.58 L973.00,150.49 L971.87,148.41 L970.73,146.34 L969.58,144.28 L968.41,142.22 L967.23,140.18 L966.04,138.14 L964.83,136.10 L963.61,134.08 L962.37,132.07 L961.12,130.06 L959.86,128.06 L958.58,126.07 L957.29,124.09 L955.98,122.12 L954.66,120.16 L953.32,118.20 L951.97,116.26 L950.60,114.32 L949.22,112.40 L947.82,110.48 L946.40,108.57 L944.97,106.68 L943.53,104.79 L942.07,102.91 L940.59,101.05 L939.09,99.19 L937.58,97.35 L936.05,95.51 L934.51,93.69 L932.95,91.87 L931.37,90.07 L929.77,88.28 L928.15,86.50 L926.51,84.73 L924.86,82.98 L923.19,81.24 L921.49,79.50 L919.78,77.78 L918.05,76.08 L916.30,74.38 L914.52,72.70 L912.73,71.04 L910.91,69.38 L909.07,67.74 L907.20,66.11 L905.32,64.50 L903.41,62.90 L901.47,61.32 L899.51,59.75 L897.52,58.20 L895.51,56.66 L893.47,55.14 L891.40,53.63 L889.30,52.14 M939.15,692.56 L942.30,691.07 L945.40,689.56 L948.47,688.04 L951.49,686.50 L954.47,684.95 L957.41,683.38 L960.31,681.80 L963.18,680.20 L966.01,678.59 L968.80,676.96 L971.56,675.32 L974.29,673.66 L976.98,672.00 L979.64,670.32 L982.27,668.62 L984.87,666.92 L987.44,665.20 L989.98,663.46 L992.49,661.72 L994.97,659.97 L997.42,658.20 L999.85,656.42 L1002.25,654.63 L1004.62,652.83 L1006.96,651.01 L1009.28,649.19 L1011.57,647.35 L1013.84,645.51 L1016.08,643.65 L1018.30,641.79 L1020.49,639.91 L1022.66,638.02 L1024.81,636.13 L1026.93,634.22 L1029.02,632.30 L1031.10,630.38 L1033.15,628.44 L1035.18,626.50 L1037.19,624.54 L1039.17,622.58 L1041.13,620.61 L1043.07,618.63 L1044.99,616.64 L1046.88,614.64 L1048.76,612.63 L1050.61,610.62 L1052.45,608.60 L1054.26,606.56 L1056.05,604.52 L1057.82,602.48 L1059.57,600.42 L1061.30,598.36 L1063.01,596.29 L1064.70,594.21 L1066.37,592.12 L1068.02,590.03 L1069.65,587.93 L1071.26,585.82 L1072.85,583.71 L1074.42,581.58 L1075.97,579.46 L1077.50,577.32 L1079.01,575.18 L1080.51,573.03 L1081.98,570.87 L1083.44,568.71 L1084.88,566.54 L1086.30,564.37 L1087.70,562.19 L1089.08,560.00 L1090.44,557.81 L1091.78,555.61 L1093.11,553.41 L1094.42,551.20 L1095.71,548.98 L1096.98,546.76 L1098.23,544.53 L1099.47,542.30 L1100.68,540.06 L1101.88,537.82 L1103.06,535.57 L1104.23,533.32 L1105.37,531.06 L1106.50,528.80 L1107.61,526.53 L1108.70,524.26 L1109.77,521.98 L1110.83,519.70 L1111.87,517.41 L1112.89,515.12 L1113.89,512.82 L1114.88,510.52 L1115.85,508.22 L1116.80,505.91 L1117.74,503.60 L1118.65,501.28 L1119.55,498.96 L1120.44,496.64 L1121.30,494.31 L1122.15,491.98 L1122.98,489.65 L1123.79,487.31 L1124.59,484.97 L1125.37,482.62 L1126.13,480.27 L1126.88,477.92 L1127.60,475.57 L1128.31,473.21 L1129.01,470.85 L1129.69,468.48 L1130.35,466.12 L1130.99,463.75 L1131.62,461.37 L1132.22,459.00 L1132.82,456.62 L1133.39,454.24 L1133.95,451.86 L1134.49,449.48 L1135.02,447.09 L1135.53,444.70 L1136.02,442.31 L1136.49,439.91 L1136.95,437.52 L1137.39,435.12 L1137.82,432.72 L1138.23,430.32 L1138.62,427.92 L1138.99,425.51 L1139.35,423.11 L1139.69,420.70 L1140.01,418.29 L1140.32,415.88 L1140.61,413.47 L1140.89,411.06 L1141.14,408.64 L1141.38,406.23 L1141.61,403.81 L1141.82,401.40 L1142.01,398.98 L1142.18,396.56 L1142.34,394.14 L1142.48,391.72 L1142.61,389.30 L1142.71,386.88 L1142.80,384.46 L1142.88,382.04 L1142.94,379.62 L1142.98,377.19 L1143.00,374.77 L1143.01,372.35 L1143.00,369.93 L1142.98,367.51 L1142.94,365.08 L1142.88,362.66 L1142.80,360.24 L1142.71,357.82 L1142.61,355.40 L1142.48,352.98 L1142.34,350.56 L1142.18,348.14 L1142.01,345.72 L1141.82,343.30 L1141.61,340.89 L1141.38,338.47 L1141.14,336.06 L1140.89,333.64 L1140.61,331.23 L1140.32,328.82 L1140.01,326.41 L1139.69,324.00 L1139.35,321.59 L1138.99,319.19 L1138.62,316.78 L1138.23,314.38 L1137.82,311.98 L1137.39,309.58 L1136.95,307.18 L1136.49,304.79 L1136.02,302.39 L1135.53,300.00 L1135.02,297.61 L1134.49,295.22 L1133.95,292.84 L1133.39,290.46 L1132.82,288.08 L1132.22,285.70 L1131.62,283.33 L1130.99,280.95 L1130.35,278.58 L1129.69,276.22 L1129.01,273.85 L1128.31,271.49 L1127.60,269.13 L1126.88,266.78 L1126.13,264.43 L1125.37,262.08 L1124.59,259.73 L1123.79,257.39 L1122.98,255.05 L1122.15,252.72 L1121.30,250.39 L1120.44,248.06 L1119.55,245.74 L1118.65,243.42 L1117.74,241.10 L1116.80,238.79 L1115.85,236.48 L1114.88,234.18 L1113.89,231.88 L1112.89,229.58 L1111.87,227.29 L1110.83,225.00 L1109.77,222.72 L1108.70,220.44 L1107.61,218.17 L1106.50,215.90 L1105.37,213.64 L1104.23,211.38 L1103.06,209.13 L1101.88,206.88 L1100.68,204.64 L1099.47,202.40 L1098.23,200.17 L1096.98,197.94 L1095.71,195.72 L1094.42,193.50 L1093.11,191.29 L1091.78,189.09 L1090.44,186.89 L1089.08,184.70 L1087.70,182.51 L1086.30,180.33 L1084.88,178.16 L1083.44,175.99 L1081.98,173.83 L1080.51,171.67 L1079.01,169.52 L1077.50,167.38 L1075.97,165.24 L1074.42,163.12 L1072.85,160.99 L1071.26,158.88 L1069.65,156.77 L1068.02,154.67 L1066.37,152.58 L1064.70,150.49 L1063.01,148.41 L1061.30,146.34 L1059.57,144.28 L1057.82,142.22 L1056.05,140.18 L1054.26,138.14 L1052.45,136.10 L1050.61,134.08 L1048.76,132.07 L1046.88,130.06 L1044.99,128.06 L1043.07,126.07 L1041.13,124.09 L1039.17,122.12 L1037.19,120.16 L1035.18,118.20 L1033.15,116.26 L1031.10,114.32 L1029.02,112.40 L1026.93,110.48 L1024.81,108.57 L1022.66,106.68 L1020.49,104.79 L1018.30,102.91 L1016.08,101.05 L1013.84,99.19 L1011.57,97.35 L1009.28,95.51 L1006.96,93.69 L1004.62,91.87 L1002.25,90.07 L999.85,88.28 L997.42,86.50 L994.97,84.73 L992.49,82.98 L989.98,81.24 L987.44,79.50 L984.87,77.78 L982.27,76.08 L979.64,74.38 L976.98,72.70 L974.29,71.04 L971.56,69.38 L968.80,67.74 L966.01,66.11 L963.18,64.50 L960.31,62.90 L957.41,61.32 L954.47,59.75 L951.49,58.20 L948.47,56.66 L945.40,55.14 L942.30,53.63 L939.15,52.14 M989.00,692.56 L993.20,691.07 L997.34,689.56 L1001.42,688.04 L1005.45,686.50 L1009.42,684.95 L1013.34,683.38 L1017.22,681.80 L1021.04,680.20 L1024.81,678.59 L1028.54,676.96 L1032.22,675.32 L1035.85,673.66 L1039.44,672.00 L1042.99,670.32 L1046.50,668.62 L1049.96,666.92 L1053.39,665.20 L1056.77,663.46 L1060.12,661.72 L1063.43,659.97 L1066.70,658.20 L1069.93,656.42 L1073.13,654.63 L1076.29,652.83 L1079.42,651.01 L1082.51,649.19 L1085.57,647.35 L1088.59,645.51 L1091.58,643.65 L1094.53,641.79 L1097.46,639.91 L1100.35,638.02 L1103.21,636.13 L1106.04,634.22 L1108.83,632.30 L1111.60,630.38 L1114.33,628.44 L1117.04,626.50 L1119.71,624.54 L1122.36,622.58 L1124.97,620.61 L1127.56,618.63 L1130.12,616.64 L1132.65,614.64 L1135.15,612.63 L1137.62,610.62 L1140.06,608.60 L1142.48,606.56 L1144.87,604.52 L1147.23,602.48 L1149.56,600.42 L1151.87,598.36 L1154.14,596.29 L1156.40,594.21 L1158.62,592.12 L1160.82,590.03 L1162.99,587.93 L1165.14,585.82 L1167.26,583.71 L1169.36,581.58 L1171.43,579.46 L1173.47,577.32 L1175.49,575.18 L1177.48,573.03 L1179.45,570.87 L1181.39,568.71 L1183.30,566.54 L1185.19,564.37 L1187.06,562.19 L1188.90,560.00 L1190.72,557.81 L1192.51,555.61 L1194.28,553.41 L1196.02,551.20 L1197.74,548.98 L1199.44,546.76 L1201.11,544.53 L1202.76,542.30 L1204.38,540.06 L1205.98,537.82 L1207.55,535.57 L1209.10,533.32 L1210.63,531.06 L1212.13,528.80 L1213.61,526.53 L1215.07,524.26 L1216.50,521.98 L1217.91,519.70 L1219.29,517.41 L1220.65,515.12 L1221.99,512.82 L1223.31,510.52 L1224.60,508.22 L1225.87,505.91 L1227.12,503.60 L1228.34,501.28 L1229.54,498.96 L1230.71,496.64 L1231.87,494.31 L1233.00,491.98 L1234.11,489.65 L1235.19,487.31 L1236.25,484.97 L1237.29,482.62 L1238.31,480.27 L1239.30,477.92 L1240.27,475.57 L1241.22,473.21 L1242.15,470.85 L1243.05,468.48 L1243.93,466.12 L1244.79,463.75 L1245.62,461.37 L1246.43,459.00 L1247.22,456.62 L1247.99,454.24 L1248.74,451.86 L1249.46,449.48 L1250.16,447.09 L1250.84,444.70 L1251.49,442.31 L1252.12,439.91 L1252.74,437.52 L1253.32,435.12 L1253.89,432.72 L1254.43,430.32 L1254.95,427.92 L1255.45,425.51 L1255.93,423.11 L1256.39,420.70 L1256.82,418.29 L1257.23,415.88 L1257.62,413.47 L1257.98,411.06 L1258.32,408.64 L1258.65,406.23 L1258.94,403.81 L1259.22,401.40 L1259.48,398.98 L1259.71,396.56 L1259.92,394.14 L1260.11,391.72 L1260.27,389.30 L1260.42,386.88 L1260.54,384.46 L1260.64,382.04 L1260.72,379.62 L1260.77,377.19 L1260.80,374.77 L1260.82,372.35 L1260.80,369.93 L1260.77,367.51 L1260.72,365.08 L1260.64,362.66 L1260.54,360.24 L1260.42,357.82 L1260.27,355.40 L1260.11,352.98 L1259.92,350.56 L1259.71,348.14 L1259.48,345.72 L1259.22,343.30 L1258.94,340.89 L1258.65,338.47 L1258.32,336.06 L1257.98,333.64 L1257.62,331.23 L1257.23,328.82 L1256.82,326.41 L1256.39,324.00 L1255.93,321.59 L1255.45,319.19 L1254.95,316.78 L1254.43,314.38 L1253.89,311.98 L1253.32,309.58 L1252.74,307.18 L1252.12,304.79 L1251.49,302.39 L1250.84,300.00 L1250.16,297.61 L1249.46,295.22 L1248.74,292.84 L1247.99,290.46 L1247.22,288.08 L1246.43,285.70 L1245.62,283.33 L1244.79,280.95 L1243.93,278.58 L1243.05,276.22 L1242.15,273.85 L1241.22,271.49 L1240.27,269.13 L1239.30,266.78 L1238.31,264.43 L1237.29,262.08 L1236.25,259.73 L1235.19,257.39 L1234.11,255.05 L1233.00,252.72 L1231.87,250.39 L1230.71,248.06 L1229.54,245.74 L1228.34,243.42 L1227.12,241.10 L1225.87,238.79 L1224.60,236.48 L1223.31,234.18 L1221.99,231.88 L1220.65,229.58 L1219.29,227.29 L1217.91,225.00 L1216.50,222.72 L1215.07,220.44 L1213.61,218.17 L1212.13,215.90 L1210.63,213.64 L1209.10,211.38 L1207.55,209.13 L1205.98,206.88 L1204.38,204.64 L1202.76,202.40 L1201.11,200.17 L1199.44,197.94 L1197.74,195.72 L1196.02,193.50 L1194.28,191.29 L1192.51,189.09 L1190.72,186.89 L1188.90,184.70 L1187.06,182.51 L1185.19,180.33 L1183.30,178.16 L1181.39,175.99 L1179.45,173.83 L1177.48,171.67 L1175.49,169.52 L1173.47,167.38 L1171.43,165.24 L1169.36,163.12 L1167.26,160.99 L1165.14,158.88 L1162.99,156.77 L1160.82,154.67 L1158.62,152.58 L1156.40,150.49 L1154.14,148.41 L1151.87,146.34 L1149.56,144.28 L1147.23,142.22 L1144.87,140.18 L1142.48,138.14 L1140.06,136.10 L1137.62,134.08 L1135.15,132.07 L1132.65,130.06 L1130.12,128.06 L1127.56,126.07 L1124.97,124.09 L1122.36,122.12 L1119.71,120.16 L1117.04,118.20 L1114.33,116.26 L1111.60,114.32 L1108.83,112.40 L1106.04,110.48 L1103.21,108.57 L1100.35,106.68 L1097.46,104.79 L1094.53,102.91 L1091.58,101.05 L1088.59,99.19 L1085.57,97.35 L1082.51,95.51 L1079.42,93.69 L1076.29,91.87 L1073.13,90.07 L1069.93,88.28 L1066.70,86.50 L1063.43,84.73 L1060.12,82.98 L1056.77,81.24 L1053.39,79.50 L1049.96,77.78 L1046.50,76.08 L1042.99,74.38 L1039.44,72.70 L1035.85,71.04 L1032.22,69.38 L1028.54,67.74 L1024.81,66.11 L1021.04,64.50 L1017.22,62.90 L1013.34,61.32 L1009.42,59.75 L1005.45,58.20 L1001.42,56.66 L997.34,55.14 L993.20,53.63 L989.00,52.14 M1038.85,692.56 L1044.10,691.07 L1049.27,689.56 L1054.38,688.04 L1059.41,686.50 L1064.38,684.95 L1069.28,683.38 L1074.12,681.80 L1078.90,680.20 L1083.61,678.59 L1088.27,676.96 L1092.87,675.32 L1097.41,673.66 L1101.90,672.00 L1106.34,670.32 L1110.72,668.62 L1115.05,666.92 L1119.34,665.20 L1123.57,663.46 L1127.75,661.72 L1131.89,659.97 L1135.97,658.20 L1140.02,656.42 L1144.01,654.63 L1147.97,652.83 L1151.87,651.01 L1155.74,649.19 L1159.56,647.35 L1163.34,645.51 L1167.07,643.65 L1170.77,641.79 L1174.42,639.91 L1178.04,638.02 L1181.61,636.13 L1185.15,634.22 L1188.64,632.30 L1192.10,630.38 L1195.52,628.44 L1198.90,626.50 L1202.24,624.54 L1205.55,622.58 L1208.82,620.61 L1212.05,618.63 L1215.25,616.64 L1218.41,614.64 L1221.53,612.63 L1224.62,610.62 L1227.68,608.60 L1230.70,606.56 L1233.68,604.52 L1236.63,602.48 L1239.55,600.42 L1242.43,598.36 L1245.28,596.29 L1248.10,594.21 L1250.88,592.12 L1253.63,590.03 L1256.34,587.93 L1259.03,585.82 L1261.68,583.71 L1264.30,581.58 L1266.88,579.46 L1269.44,577.32 L1271.96,575.18 L1274.45,573.03 L1276.91,570.87 L1279.33,568.71 L1281.73,566.54 L1284.09,564.37 L1286.43,562.19 L1288.73,560.00 L1291.00,557.81 L1293.24,555.61 L1295.45,553.41 L1297.63,551.20 L1299.78,548.98 L1301.90,546.76 L1303.99,544.53 L1306.04,542.30 L1308.07,540.06 L1310.07,537.82 L1312.04,535.57 L1313.98,533.32 L1315.89,531.06 L1317.76,528.80 L1319.61,526.53 L1321.43,524.26 L1323.22,521.98 L1324.98,519.70 L1326.72,517.41 L1328.42,515.12 L1330.09,512.82 L1331.74,510.52 L1333.35,508.22 L1334.94,505.91 L1336.49,503.60 L1338.02,501.28 L1339.52,498.96 L1340.99,496.64 L1342.43,494.31 L1343.85,491.98 L1345.23,489.65 L1346.59,487.31 L1347.91,484.97 L1349.21,482.62 L1350.48,480.27 L1351.73,477.92 L1352.94,475.57 L1354.12,473.21 L1355.28,470.85 L1356.41,468.48 L1357.51,466.12 L1358.58,463.75 L1359.63,461.37 L1360.64,459.00 L1361.63,456.62 L1362.59,454.24 L1363.52,451.86 L1364.42,449.48 L1365.30,447.09 L1366.15,444.70 L1366.96,442.31 L1367.76,439.91 L1368.52,437.52 L1369.25,435.12 L1369.96,432.72 L1370.64,430.32 L1371.29,427.92 L1371.92,425.51 L1372.51,423.11 L1373.08,420.70 L1373.62,418.29 L1374.13,415.88 L1374.62,413.47 L1375.08,411.06 L1375.51,408.64 L1375.91,406.23 L1376.28,403.81 L1376.63,401.40 L1376.95,398.98 L1377.24,396.56 L1377.50,394.14 L1377.73,391.72 L1377.94,389.30 L1378.12,386.88 L1378.27,384.46 L1378.40,382.04 L1378.50,379.62 L1378.56,377.19 L1378.61,374.77 L1378.62,372.35 L1378.61,369.93 L1378.56,367.51 L1378.50,365.08 L1378.40,362.66 L1378.27,360.24 L1378.12,357.82 L1377.94,355.40 L1377.73,352.98 L1377.50,350.56 L1377.24,348.14 L1376.95,345.72 L1376.63,343.30 L1376.28,340.89 L1375.91,338.47 L1375.51,336.06 L1375.08,333.64 L1374.62,331.23 L1374.13,328.82 L1373.62,326.41 L1373.08,324.00 L1372.51,321.59 L1371.92,319.19 L1371.29,316.78 L1370.64,314.38 L1369.96,311.98 L1369.25,309.58 L1368.52,307.18 L1367.76,304.79 L1366.96,302.39 L1366.15,300.00 L1365.30,297.61 L1364.42,295.22 L1363.52,292.84 L1362.59,290.46 L1361.63,288.08 L1360.64,285.70 L1359.63,283.33 L1358.58,280.95 L1357.51,278.58 L1356.41,276.22 L1355.28,273.85 L1354.12,271.49 L1352.94,269.13 L1351.73,266.78 L1350.48,264.43 L1349.21,262.08 L1347.91,259.73 L1346.59,257.39 L1345.23,255.05 L1343.85,252.72 L1342.43,250.39 L1340.99,248.06 L1339.52,245.74 L1338.02,243.42 L1336.49,241.10 L1334.94,238.79 L1333.35,236.48 L1331.74,234.18 L1330.09,231.88 L1328.42,229.58 L1326.72,227.29 L1324.98,225.00 L1323.22,222.72 L1321.43,220.44 L1319.61,218.17 L1317.76,215.90 L1315.89,213.64 L1313.98,211.38 L1312.04,209.13 L1310.07,206.88 L1308.07,204.64 L1306.04,202.40 L1303.99,200.17 L1301.90,197.94 L1299.78,195.72 L1297.63,193.50 L1295.45,191.29 L1293.24,189.09 L1291.00,186.89 L1288.73,184.70 L1286.43,182.51 L1284.09,180.33 L1281.73,178.16 L1279.33,175.99 L1276.91,173.83 L1274.45,171.67 L1271.96,169.52 L1269.44,167.38 L1266.88,165.24 L1264.30,163.12 L1261.68,160.99 L1259.03,158.88 L1256.34,156.77 L1253.63,154.67 L1250.88,152.58 L1248.10,150.49 L1245.28,148.41 L1242.43,146.34 L1239.55,144.28 L1236.63,142.22 L1233.68,140.18 L1230.70,138.14 L1227.68,136.10 L1224.62,134.08 L1221.53,132.07 L1218.41,130.06 L1215.25,128.06 L1212.05,126.07 L1208.82,124.09 L1205.55,122.12 L1202.24,120.16 L1198.90,118.20 L1195.52,116.26 L1192.10,114.32 L1188.64,112.40 L1185.15,110.48 L1181.61,108.57 L1178.04,106.68 L1174.42,104.79 L1170.77,102.91 L1167.07,101.05 L1163.34,99.19 L1159.56,97.35 L1155.74,95.51 L1151.87,93.69 L1147.97,91.87 L1144.01,90.07 L1140.02,88.28 L1135.97,86.50 L1131.89,84.73 L1127.75,82.98 L1123.57,81.24 L1119.34,79.50 L1115.05,77.78 L1110.72,76.08 L1106.34,74.38 L1101.90,72.70 L1097.41,71.04 L1092.87,69.38 L1088.27,67.74 L1083.61,66.11 L1078.90,64.50 L1074.12,62.90 L1069.28,61.32 L1064.38,59.75 L1059.41,58.20 L1054.38,56.66 L1049.27,55.14 L1044.10,53.63 L1038.85,52.14" fill="none" stroke="#b0b0b0" stroke-width="2.8"/>
<defs><clipPath id="ec"><ellipse cx="789.6" cy="372.35" rx="706.82" ry="353.41"/></clipPath></defs>
<g clip-path="url(#ec)"><circle cx="167.5" cy="224.2" r="8.6" fill="#808080"/><circle cx="171.7" cy="225.5" r="8.6" fill="#808080"/><circle cx="411.4" cy="122.1" r="8.6" fill="#808080"/><circle cx="499.8" cy="112.5" r="8.6" fill="#808080"/><circle cx="798.7" cy="109.6" r="8.6" fill="#808080"/><circle cx="942.1" cy="85.2" r="8.6" fill="#808080"/><circle cx="990.0" cy="58.7" r="8.6" fill="#808080"/><circle cx="1012.4" cy="77.3" r="8.6" fill="#808080"/><circle cx="1079.0" cy="115.8" r="8.6" fill="#808080"/><circle cx="1033.8" cy="130.9" r="8.6" fill="#808080"/><circle cx="1058.0" cy="126.2" r="8.6" fill="#808080"/><circle cx="1123.6" cy="159.0" r="8.6" fill="#808080"/><circle cx="1138.5" cy="153.1" r="8.6" fill="#808080"/><circle cx="1165.3" cy="160.2" r="8.6" fill="#808080"/><circle cx="1213.0" cy="192.8" r="8.6" fill="#808080"/><circle cx="1218.9" cy="201.2" r="8.6" fill="#808080"/><circle cx="1231.6" cy="203.7" r="8.6" fill="#808080"/><circle cx="1278.8" cy="214.7" r="8.6" fill="#808080"/><circle cx="1282.2" cy="222.3" r="8.6" fill="#808080"/><circle cx="1279.0" cy="214.6" r="8.6" fill="#808080"/><circle cx="1283.3" cy="223.9" r="8.6" fill="#808080"/><circle cx="1315.3" cy="225.6" r="8.6" fill="#808080"/><circle cx="1320.4" cy="230.7" r="8.6" fill="#808080"/><circle cx="1330.5" cy="249.2" r="8.6" fill="#808080"/><circle cx="1359.5" cy="203.7" r="8.6" fill="#808080"/><circle cx="1402.7" cy="262.7" r="8.6" fill="#808080"/><circle cx="549.5" cy="206.0" r="8.6" fill="#808080"/><circle cx="547.8" cy="212.7" r="8.6" fill="#808080"/><circle cx="595.9" cy="210.7" r="8.6" fill="#808080"/><circle cx="588.7" cy="216.9" r="8.6" fill="#808080"/><circle cx="620.4" cy="196.7" r="8.6" fill="#808080"/><circle cx="630.5" cy="211.9" r="8.6" fill="#808080"/><circle cx="748.7" cy="160.2" r="8.6" fill="#808080"/><circle cx="771.5" cy="121.1" r="8.6" fill="#808080"/><circle cx="494.7" cy="263.8" r="8.6" fill="#808080"/><circle cx="509.9" cy="270.5" r="8.6" fill="#808080"/><circle cx="555.4" cy="266.6" r="8.6" fill="#808080"/><circle cx="669.3" cy="226.1" r="8.6" fill="#808080"/><circle cx="672.7" cy="245.5" r="8.6" fill="#808080"/><circle cx="664.2" cy="278.4" r="8.6" fill="#808080"/><circle cx="630.5" cy="275.9" r="8.6" fill="#808080"/><circle cx="671.0" cy="274.2" r="8.6" fill="#808080"/><circle cx="719.5" cy="226.1" r="8.6" fill="#808080"/><circle cx="751.2" cy="248.6" r="8.6" fill="#808080"/><circle cx="339.5" cy="509.9" r="8.6" fill="#808080"/><circle cx="211.3" cy="552.9" r="8.6" fill="#808080"/><circle cx="187.7" cy="543.6" r="8.6" fill="#808080"/><circle cx="250.4" cy="571.0" r="8.6" fill="#808080"/><circle cx="318.7" cy="581.9" r="8.6" fill="#808080"/><circle cx="379.4" cy="614.0" r="8.6" fill="#808080"/><circle cx="381.1" cy="637.6" r="8.6" fill="#808080"/><circle cx="251.2" cy="585.6" r="8.6" fill="#808080"/><circle cx="265.2" cy="585.3" r="8.6" fill="#808080"/><circle cx="330.2" cy="592.1" r="8.6" fill="#808080"/><circle cx="392.9" cy="611.5" r="8.6" fill="#808080"/><circle cx="374.2" cy="472.8" r="8.6" fill="#808080"/><circle cx="422.3" cy="528.4" r="8.6" fill="#808080"/><circle cx="459.4" cy="531.8" r="8.6" fill="#808080"/><circle cx="468.7" cy="534.3" r="8.6" fill="#808080"/><circle cx="498.7" cy="561.3" r="8.6" fill="#808080"/><circle cx="509.7" cy="514.9" r="8.6" fill="#808080"/><circle cx="512.6" cy="482.1" r="8.6" fill="#808080"/><circle cx="520.1" cy="484.6" r="8.6" fill="#808080"/><circle cx="546.3" cy="547.8" r="8.6" fill="#808080"/><circle cx="431.6" cy="549.5" r="8.6" fill="#808080"/><circle cx="438.3" cy="556.3" r="8.6" fill="#808080"/><circle cx="492.3" cy="637.9" r="8.6" fill="#808080"/><circle cx="526.0" cy="568.4" r="8.6" fill="#808080"/><circle cx="538.7" cy="650.2" r="8.6" fill="#808080"/><circle cx="563.3" cy="531.8" r="8.6" fill="#808080"/><circle cx="603.7" cy="520.9" r="8.6" fill="#808080"/><circle cx="631.6" cy="531.0" r="8.6" fill="#808080"/><circle cx="643.4" cy="529.3" r="8.6" fill="#808080"/><circle cx="646.8" cy="534.3" r="8.6" fill="#808080"/><circle cx="648.4" cy="541.9" r="8.6" fill="#808080"/><circle cx="645.1" cy="551.2" r="8.6" fill="#808080"/><circle cx="641.7" cy="547.8" r="8.6" fill="#808080"/><circle cx="635.0" cy="546.2" r="8.6" fill="#808080"/><circle cx="635.8" cy="534.3" r="8.6" fill="#808080"/><circle cx="631.6" cy="569.8" r="8.6" fill="#808080"/><circle cx="592.8" cy="570.6" r="8.6" fill="#808080"/><circle cx="527.0" cy="566.4" r="8.6" fill="#808080"/><circle cx="1346.8" cy="475.4" r="8.6" fill="#808080"/><circle cx="1385.6" cy="514.2" r="8.6" fill="#808080"/><circle cx="1392.3" cy="514.2" r="8.6" fill="#808080"/><circle cx="1407.5" cy="526.0" r="8.6" fill="#808080"/><circle cx="1372.1" cy="524.3" r="8.6" fill="#808080"/><circle cx="1365.3" cy="529.4" r="8.6" fill="#808080"/><circle cx="1363.6" cy="534.5" r="8.6" fill="#808080"/><circle cx="1328.2" cy="548.0" r="8.6" fill="#808080"/><circle cx="1365.3" cy="556.4" r="8.6" fill="#808080"/><circle cx="1375.4" cy="554.7" r="8.6" fill="#808080"/><circle cx="200.1" cy="469.6" r="8.6" fill="#808080"/><circle cx="211.4" cy="484.1" r="8.6" fill="#808080"/><circle cx="177.4" cy="500.3" r="8.6" fill="#808080"/><circle cx="188.7" cy="472.8" r="8.6" fill="#808080"/><circle cx="627.8" cy="534.0" r="8.6" fill="#808080"/><circle cx="637.2" cy="527.3" r="8.6" fill="#808080"/><circle cx="647.4" cy="533.3" r="8.6" fill="#808080"/><circle cx="642.6" cy="548.2" r="8.6" fill="#808080"/><circle cx="649.4" cy="545.5" r="8.6" fill="#808080"/><circle cx="635.9" cy="534.7" r="8.6" fill="#808080"/><circle cx="241.7" cy="205.3" r="8.6" fill="#ffa500"/><circle cx="227.4" cy="212.1" r="8.6" fill="#ffa500"/><circle cx="245.9" cy="197.7" r="8.6" fill="#ffa500"/><circle cx="137.1" cy="260.1" r="8.6" fill="#ffa500"/><circle cx="393.5" cy="124.7" r="8.6" fill="#ffa500"/><circle cx="490.5" cy="114.5" r="8.6" fill="#ffa500"/><circle cx="640.6" cy="82.5" r="8.6" fill="#ffa500"/><circle cx="847.1" cy="64.9" r="8.6" fill="#ffa500"/><circle cx="1000.6" cy="59.9" r="8.6" fill="#ffa500"/><circle cx="985.9" cy="72.7" r="8.6" fill="#ffa500"/><circle cx="985.1" cy="50.6" r="8.6" fill="#ffa500"/><circle cx="1053.2" cy="58.2" r="8.6" fill="#ffa500"/><circle cx="1058.8" cy="135.5" r="8.6" fill="#ffa500"/><circle cx="1207.1" cy="180.1" r="8.6" fill="#ffa500"/><circle cx="1227.4" cy="186.9" r="8.6" fill="#ffa500"/><circle cx="1205.4" cy="199.5" r="8.6" fill="#ffa500"/><circle cx="1298.2" cy="205.4" r="8.6" fill="#ffa500"/><circle cx="1309.2" cy="216.4" r="8.6" fill="#ffa500"/><circle cx="1259.6" cy="258.5" r="8.6" fill="#ffa500"/><circle cx="1297.6" cy="204.5" r="8.6" fill="#ffa500"/><circle cx="1308.6" cy="217.2" r="8.6" fill="#ffa500"/><circle cx="1303.5" cy="242.5" r="8.6" fill="#ffa500"/><circle cx="1285.0" cy="236.6" r="8.6" fill="#ffa500"/><circle cx="1327.1" cy="239.1" r="8.6" fill="#ffa500"/><circle cx="1395.9" cy="250.9" r="8.6" fill="#ffa500"/><circle cx="595.1" cy="180.7" r="8.6" fill="#ffa500"/><circle cx="634.7" cy="186.6" r="8.6" fill="#ffa500"/><circle cx="654.5" cy="163.5" r="8.6" fill="#ffa500"/><circle cx="691.2" cy="213.9" r="8.6" fill="#ffa500"/><circle cx="624.1" cy="236.0" r="8.6" fill="#ffa500"/><circle cx="706.5" cy="197.8" r="8.6" fill="#ffa500"/><circle cx="760.8" cy="207.1" r="8.6" fill="#ffa500"/><circle cx="525.1" cy="250.6" r="8.6" fill="#ffa500"/><circle cx="524.2" cy="266.6" r="8.6" fill="#ffa500"/><circle cx="579.9" cy="263.3" r="8.6" fill="#ffa500"/><circle cx="628.0" cy="253.6" r="8.6" fill="#ffa500"/><circle cx="667.6" cy="240.5" r="8.6" fill="#ffa500"/><circle cx="196.2" cy="515.8" r="8.6" fill="#ffa500"/><circle cx="229.9" cy="539.4" r="8.6" fill="#ffa500"/><circle cx="331.1" cy="471.9" r="8.6" fill="#ffa500"/><circle cx="336.2" cy="475.3" r="8.6" fill="#ffa500"/><circle cx="202.9" cy="561.3" r="8.6" fill="#ffa500"/><circle cx="191.1" cy="553.7" r="8.6" fill="#ffa500"/><circle cx="201.2" cy="556.3" r="8.6" fill="#ffa500"/><circle cx="236.6" cy="567.2" r="8.6" fill="#ffa500"/><circle cx="282.2" cy="551.2" r="8.6" fill="#ffa500"/><circle cx="346.3" cy="553.7" r="8.6" fill="#ffa500"/><circle cx="252.9" cy="573.5" r="8.6" fill="#ffa500"/><circle cx="288.3" cy="600.5" r="8.6" fill="#ffa500"/><circle cx="296.8" cy="614.0" r="8.6" fill="#ffa500"/><circle cx="338.9" cy="584.5" r="8.6" fill="#ffa500"/><circle cx="411.3" cy="472.3" r="8.6" fill="#ffa500"/><circle cx="424.8" cy="488.8" r="8.6" fill="#ffa500"/><circle cx="398.7" cy="512.4" r="8.6" fill="#ffa500"/><circle cx="414.7" cy="508.2" r="8.6" fill="#ffa500"/><circle cx="445.1" cy="514.9" r="8.6" fill="#ffa500"/><circle cx="461.9" cy="549.5" r="8.6" fill="#ffa500"/><circle cx="483.9" cy="550.4" r="8.6" fill="#ffa500"/><circle cx="510.9" cy="497.2" r="8.6" fill="#ffa500"/><circle cx="526.0" cy="537.4" r="8.6" fill="#ffa500"/><circle cx="410.5" cy="595.4" r="8.6" fill="#ffa500"/><circle cx="489.8" cy="602.2" r="8.6" fill="#ffa500"/><circle cx="541.2" cy="565.1" r="8.6" fill="#ffa500"/><circle cx="528.6" cy="647.7" r="8.6" fill="#ffa500"/><circle cx="543.0" cy="564.7" r="8.6" fill="#ffa500"/><circle cx="1355.2" cy="465.3" r="8.6" fill="#ffa500"/><circle cx="1370.4" cy="489.8" r="8.6" fill="#ffa500"/><circle cx="1379.7" cy="468.7" r="8.6" fill="#ffa500"/><circle cx="1403.3" cy="515.9" r="8.6" fill="#ffa500"/><circle cx="1408.3" cy="517.6" r="8.6" fill="#ffa500"/><circle cx="1394.0" cy="530.2" r="8.6" fill="#ffa500"/><circle cx="1353.5" cy="551.3" r="8.6" fill="#ffa500"/><circle cx="1350.1" cy="556.4" r="8.6" fill="#ffa500"/><circle cx="1347.0" cy="584.3" r="8.6" fill="#ffa500"/><circle cx="1466.0" cy="464.4" r="8.6" fill="#ffa500"/><circle cx="190.3" cy="469.6" r="8.6" fill="#ffa500"/><circle cx="206.5" cy="475.2" r="8.6" fill="#ffa500"/><circle cx="209.0" cy="487.4" r="8.6" fill="#ffa500"/><circle cx="169.3" cy="489.8" r="8.6" fill="#ffa500"/><circle cx="156.5" cy="230.3" r="8.6" fill="#ffc0cb"/><circle cx="228.2" cy="207.8" r="8.6" fill="#ffc0cb"/><circle cx="233.3" cy="212.1" r="8.6" fill="#ffc0cb"/><circle cx="144.2" cy="263.8" r="8.6" fill="#ffc0cb"/><circle cx="115.2" cy="271.1" r="8.6" fill="#ffc0cb"/><circle cx="266.6" cy="157.1" r="8.6" fill="#ffc0cb"/><circle cx="488.0" cy="57.2" r="8.6" fill="#ffc0cb"/><circle cx="489.6" cy="67.3" r="8.6" fill="#ffc0cb"/><circle cx="490.5" cy="122.1" r="8.6" fill="#ffc0cb"/><circle cx="612.8" cy="79.9" r="8.6" fill="#ffc0cb"/><circle cx="633.0" cy="64.8" r="8.6" fill="#ffc0cb"/><circle cx="660.9" cy="28.5" r="8.6" fill="#ffc0cb"/><circle cx="671.0" cy="36.1" r="8.6" fill="#ffc0cb"/><circle cx="776.2" cy="31.7" r="8.6" fill="#ffc0cb"/><circle cx="866.2" cy="29.0" r="8.6" fill="#ffc0cb"/><circle cx="895.7" cy="44.7" r="8.6" fill="#ffc0cb"/><circle cx="941.2" cy="98.3" r="8.6" fill="#ffc0cb"/><circle cx="972.8" cy="48.6" r="8.6" fill="#ffc0cb"/><circle cx="1031.0" cy="82.4" r="8.6" fill="#ffc0cb"/><circle cx="1037.4" cy="82.4" r="8.6" fill="#ffc0cb"/><circle cx="1042.4" cy="55.9" r="8.6" fill="#ffc0cb"/><circle cx="1078.2" cy="53.7" r="8.6" fill="#ffc0cb"/><circle cx="1106.0" cy="82.4" r="8.6" fill="#ffc0cb"/><circle cx="1141.8" cy="89.6" r="8.6" fill="#ffc0cb"/><circle cx="998.6" cy="120.3" r="8.6" fill="#ffc0cb"/><circle cx="1043.6" cy="130.9" r="8.6" fill="#ffc0cb"/><circle cx="1050.9" cy="130.9" r="8.6" fill="#ffc0cb"/><circle cx="1060.5" cy="130.4" r="8.6" fill="#ffc0cb"/><circle cx="1142.8" cy="130.9" r="8.6" fill="#ffc0cb"/><circle cx="1143.0" cy="130.9" r="8.6" fill="#ffc0cb"/><circle cx="1183.0" cy="180.1" r="8.6" fill="#ffc0cb"/><circle cx="1216.7" cy="183.0" r="8.6" fill="#ffc0cb"/><circle cx="1239.2" cy="207.1" r="8.6" fill="#ffc0cb"/><circle cx="1267.0" cy="203.7" r="8.6" fill="#ffc0cb"/><circle cx="1298.2" cy="211.3" r="8.6" fill="#ffc0cb"/><circle cx="1268.1" cy="203.7" r="8.6" fill="#ffc0cb"/><circle cx="1297.6" cy="211.3" r="8.6" fill="#ffc0cb"/><circle cx="1290.0" cy="238.3" r="8.6" fill="#ffc0cb"/><circle cx="1303.5" cy="229.0" r="8.6" fill="#ffc0cb"/><circle cx="1288.3" cy="249.2" r="8.6" fill="#ffc0cb"/><circle cx="1316.2" cy="242.5" r="8.6" fill="#ffc0cb"/><circle cx="1320.4" cy="250.1" r="8.6" fill="#ffc0cb"/><circle cx="1296.8" cy="255.1" r="8.6" fill="#ffc0cb"/><circle cx="1307.7" cy="236.6" r="8.6" fill="#ffc0cb"/><circle cx="1383.3" cy="261.0" r="8.6" fill="#ffc0cb"/><circle cx="1390.0" cy="256.0" r="8.6" fill="#ffc0cb"/><circle cx="1465.1" cy="276.2" r="8.6" fill="#ffc0cb"/><circle cx="555.4" cy="206.8" r="8.6" fill="#ffc0cb"/><circle cx="599.0" cy="226.2" r="8.6" fill="#ffc0cb"/><circle cx="617.8" cy="214.4" r="8.6" fill="#ffc0cb"/><circle cx="629.7" cy="207.7" r="8.6" fill="#ffc0cb"/><circle cx="881.1" cy="130.4" r="8.6" fill="#ffc0cb"/><circle cx="857.5" cy="144.2" r="8.6" fill="#ffc0cb"/><circle cx="772.3" cy="202.9" r="8.6" fill="#ffc0cb"/><circle cx="475.3" cy="263.8" r="8.6" fill="#ffc0cb"/><circle cx="527.6" cy="267.5" r="8.6" fill="#ffc0cb"/><circle cx="573.1" cy="262.4" r="8.6" fill="#ffc0cb"/><circle cx="572.6" cy="276.8" r="8.6" fill="#ffc0cb"/><circle cx="612.8" cy="260.7" r="8.6" fill="#ffc0cb"/><circle cx="614.5" cy="257.4" r="8.6" fill="#ffc0cb"/><circle cx="681.1" cy="272.5" r="8.6" fill="#ffc0cb"/><circle cx="652.4" cy="248.9" r="8.6" fill="#ffc0cb"/><circle cx="643.2" cy="257.4" r="8.6" fill="#ffc0cb"/><circle cx="636.4" cy="270.0" r="8.6" fill="#ffc0cb"/><circle cx="649.1" cy="272.5" r="8.6" fill="#ffc0cb"/><circle cx="667.6" cy="270.9" r="8.6" fill="#ffc0cb"/><circle cx="657.5" cy="276.8" r="8.6" fill="#ffc0cb"/><circle cx="747.8" cy="257.7" r="8.6" fill="#ffc0cb"/><circle cx="209.6" cy="520.9" r="8.6" fill="#ffc0cb"/><circle cx="235.0" cy="527.6" r="8.6" fill="#ffc0cb"/><circle cx="315.9" cy="472.8" r="8.6" fill="#ffc0cb"/><circle cx="337.9" cy="477.8" r="8.6" fill="#ffc0cb"/><circle cx="319.3" cy="522.5" r="8.6" fill="#ffc0cb"/><circle cx="312.2" cy="522.5" r="8.6" fill="#ffc0cb"/><circle cx="312.2" cy="518.3" r="8.6" fill="#ffc0cb"/><circle cx="226.5" cy="552.9" r="8.6" fill="#ffc0cb"/><circle cx="195.3" cy="560.5" r="8.6" fill="#ffc0cb"/><circle cx="272.1" cy="554.6" r="8.6" fill="#ffc0cb"/><circle cx="292.3" cy="566.4" r="8.6" fill="#ffc0cb"/><circle cx="306.6" cy="558.0" r="8.6" fill="#ffc0cb"/><circle cx="273.1" cy="592.1" r="8.6" fill="#ffc0cb"/><circle cx="291.7" cy="585.3" r="8.6" fill="#ffc0cb"/><circle cx="301.8" cy="597.1" r="8.6" fill="#ffc0cb"/><circle cx="344.0" cy="588.7" r="8.6" fill="#ffc0cb"/><circle cx="340.6" cy="615.7" r="8.6" fill="#ffc0cb"/><circle cx="379.4" cy="588.7" r="8.6" fill="#ffc0cb"/><circle cx="394.6" cy="592.1" r="8.6" fill="#ffc0cb"/><circle cx="282.8" cy="595.4" r="8.6" fill="#ffc0cb"/><circle cx="389.4" cy="484.6" r="8.6" fill="#ffc0cb"/><circle cx="420.6" cy="509.0" r="8.6" fill="#ffc0cb"/><circle cx="450.1" cy="509.0" r="8.6" fill="#ffc0cb"/><circle cx="468.7" cy="515.8" r="8.6" fill="#ffc0cb"/><circle cx="468.7" cy="546.2" r="8.6" fill="#ffc0cb"/><circle cx="484.7" cy="503.1" r="8.6" fill="#ffc0cb"/><circle cx="517.6" cy="500.6" r="8.6" fill="#ffc0cb"/><circle cx="418.9" cy="551.6" r="8.6" fill="#ffc0cb"/><circle cx="428.5" cy="565.6" r="8.6" fill="#ffc0cb"/><circle cx="461.9" cy="585.3" r="8.6" fill="#ffc0cb"/><circle cx="468.7" cy="594.6" r="8.6" fill="#ffc0cb"/><circle cx="488.1" cy="619.9" r="8.6" fill="#ffc0cb"/><circle cx="503.3" cy="601.3" r="8.6" fill="#ffc0cb"/><circle cx="512.6" cy="576.9" r="8.6" fill="#ffc0cb"/><circle cx="504.6" cy="578.2" r="8.6" fill="#ffc0cb"/><circle cx="527.7" cy="594.6" r="8.6" fill="#ffc0cb"/><circle cx="528.6" cy="623.3" r="8.6" fill="#ffc0cb"/><circle cx="603.2" cy="531.0" r="8.6" fill="#ffc0cb"/><circle cx="628.2" cy="551.7" r="8.6" fill="#ffc0cb"/><circle cx="552.3" cy="566.4" r="8.6" fill="#ffc0cb"/><circle cx="574.0" cy="583.0" r="8.6" fill="#ffc0cb"/><circle cx="1368.7" cy="465.3" r="8.6" fill="#ffc0cb"/><circle cx="1356.9" cy="488.9" r="8.6" fill="#ffc0cb"/><circle cx="1439.5" cy="475.4" r="8.6" fill="#ffc0cb"/><circle cx="1442.9" cy="492.3" r="8.6" fill="#ffc0cb"/><circle cx="1399.1" cy="497.4" r="8.6" fill="#ffc0cb"/><circle cx="1427.7" cy="504.1" r="8.6" fill="#ffc0cb"/><circle cx="1388.1" cy="521.8" r="8.6" fill="#ffc0cb"/><circle cx="1372.1" cy="531.1" r="8.6" fill="#ffc0cb"/><circle cx="1382.2" cy="531.1" r="8.6" fill="#ffc0cb"/><circle cx="1352.7" cy="517.6" r="8.6" fill="#ffc0cb"/><circle cx="1345.1" cy="543.7" r="8.6" fill="#ffc0cb"/><circle cx="1359.4" cy="544.6" r="8.6" fill="#ffc0cb"/><circle cx="1370.4" cy="546.3" r="8.6" fill="#ffc0cb"/><circle cx="1372.9" cy="558.1" r="8.6" fill="#ffc0cb"/><circle cx="152.3" cy="468.0" r="8.6" fill="#ffc0cb"/><circle cx="195.2" cy="493.9" r="8.6" fill="#ffc0cb"/><circle cx="183.9" cy="500.3" r="8.6" fill="#ffc0cb"/><circle cx="175.0" cy="485.0" r="8.6" fill="#ffc0cb"/><circle cx="229.9" cy="200.2" r="8.6" fill="#add8e6"/><circle cx="234.1" cy="203.6" r="8.6" fill="#add8e6"/><circle cx="389.8" cy="83.7" r="8.6" fill="#add8e6"/><circle cx="331.6" cy="121.6" r="8.6" fill="#add8e6"/><circle cx="359.9" cy="118.8" r="8.6" fill="#add8e6"/><circle cx="420.6" cy="115.7" r="8.6" fill="#add8e6"/><circle cx="237.4" cy="157.6" r="8.6" fill="#add8e6"/><circle cx="526.2" cy="54.1" r="8.6" fill="#add8e6"/><circle cx="527.6" cy="74.9" r="8.6" fill="#add8e6"/><circle cx="524.2" cy="82.5" r="8.6" fill="#add8e6"/><circle cx="518.8" cy="65.1" r="8.6" fill="#add8e6"/><circle cx="529.3" cy="104.4" r="8.6" fill="#add8e6"/><circle cx="594.2" cy="72.4" r="8.6" fill="#add8e6"/><circle cx="626.3" cy="72.4" r="8.6" fill="#add8e6"/><circle cx="610.3" cy="98.5" r="8.6" fill="#add8e6"/><circle cx="725.6" cy="63.3" r="8.6" fill="#add8e6"/><circle cx="753.1" cy="64.9" r="8.6" fill="#add8e6"/><circle cx="772.2" cy="54.0" r="8.6" fill="#add8e6"/><circle cx="729.9" cy="95.6" r="8.6" fill="#add8e6"/><circle cx="852.7" cy="23.6" r="8.6" fill="#add8e6"/><circle cx="933.3" cy="50.9" r="8.6" fill="#add8e6"/><circle cx="886.4" cy="64.9" r="8.6" fill="#add8e6"/><circle cx="907.2" cy="75.1" r="8.6" fill="#add8e6"/><circle cx="945.4" cy="66.6" r="8.6" fill="#add8e6"/><circle cx="883.5" cy="118.1" r="8.6" fill="#add8e6"/><circle cx="1022.5" cy="80.3" r="8.6" fill="#add8e6"/><circle cx="1027.6" cy="59.9" r="8.6" fill="#add8e6"/><circle cx="1068.9" cy="55.0" r="8.6" fill="#add8e6"/><circle cx="1123.8" cy="67.7" r="8.6" fill="#add8e6"/><circle cx="1169.0" cy="78.1" r="8.6" fill="#add8e6"/><circle cx="1090.0" cy="80.3" r="8.6" fill="#add8e6"/><circle cx="1062.2" cy="86.6" r="8.6" fill="#add8e6"/><circle cx="1065.0" cy="95.5" r="8.6" fill="#add8e6"/><circle cx="1036.5" cy="101.4" r="8.6" fill="#add8e6"/><circle cx="1111.4" cy="95.5" r="8.6" fill="#add8e6"/><circle cx="1141.8" cy="99.2" r="8.6" fill="#add8e6"/><circle cx="1144.0" cy="93.3" r="8.6" fill="#add8e6"/><circle cx="1188.7" cy="118.6" r="8.6" fill="#add8e6"/><circle cx="1003.1" cy="125.0" r="8.6" fill="#add8e6"/><circle cx="993.9" cy="131.3" r="8.6" fill="#add8e6"/><circle cx="1188.6" cy="118.6" r="8.6" fill="#add8e6"/><circle cx="1101.7" cy="153.6" r="8.6" fill="#add8e6"/><circle cx="1121.9" cy="153.1" r="8.6" fill="#add8e6"/><circle cx="1129.0" cy="146.9" r="8.6" fill="#add8e6"/><circle cx="1132.1" cy="160.7" r="8.6" fill="#add8e6"/><circle cx="1229.0" cy="163.3" r="8.6" fill="#add8e6"/><circle cx="1254.4" cy="153.1" r="8.6" fill="#add8e6"/><circle cx="1189.4" cy="187.7" r="8.6" fill="#add8e6"/><circle cx="1203.7" cy="186.9" r="8.6" fill="#add8e6"/><circle cx="1237.5" cy="187.7" r="8.6" fill="#add8e6"/><circle cx="1199.5" cy="197.8" r="8.6" fill="#add8e6"/><circle cx="1278.0" cy="203.7" r="8.6" fill="#add8e6"/><circle cx="1258.6" cy="218.9" r="8.6" fill="#add8e6"/><circle cx="1258.0" cy="220.2" r="8.6" fill="#add8e6"/><circle cx="1256.3" cy="251.8" r="8.6" fill="#add8e6"/><circle cx="1267.6" cy="275.9" r="8.6" fill="#add8e6"/><circle cx="1278.2" cy="203.7" r="8.6" fill="#add8e6"/><circle cx="1296.8" cy="236.6" r="8.6" fill="#add8e6"/><circle cx="1367.6" cy="223.9" r="8.6" fill="#add8e6"/><circle cx="1373.0" cy="217.2" r="8.6" fill="#add8e6"/><circle cx="1401.8" cy="257.7" r="8.6" fill="#add8e6"/><circle cx="1394.2" cy="264.1" r="8.6" fill="#add8e6"/><circle cx="1399.3" cy="278.7" r="8.6" fill="#add8e6"/><circle cx="1422.4" cy="251.8" r="8.6" fill="#add8e6"/><circle cx="1456.6" cy="261.0" r="8.6" fill="#add8e6"/><circle cx="1460.9" cy="271.2" r="8.6" fill="#add8e6"/><circle cx="505.7" cy="153.3" r="8.6" fill="#add8e6"/><circle cx="527.1" cy="157.1" r="8.6" fill="#add8e6"/><circle cx="530.1" cy="180.7" r="8.6" fill="#add8e6"/><circle cx="490.5" cy="198.0" r="8.6" fill="#add8e6"/><circle cx="595.9" cy="197.5" r="8.6" fill="#add8e6"/><circle cx="611.1" cy="211.0" r="8.6" fill="#add8e6"/><circle cx="621.2" cy="200.9" r="8.6" fill="#add8e6"/><circle cx="639.8" cy="198.4" r="8.6" fill="#add8e6"/><circle cx="632.2" cy="193.3" r="8.6" fill="#add8e6"/><circle cx="638.6" cy="170.5" r="8.6" fill="#add8e6"/><circle cx="669.6" cy="166.3" r="8.6" fill="#add8e6"/><circle cx="678.1" cy="144.4" r="8.6" fill="#add8e6"/><circle cx="669.3" cy="189.9" r="8.6" fill="#add8e6"/><circle cx="665.9" cy="194.2" r="8.6" fill="#add8e6"/><circle cx="848.2" cy="136.8" r="8.6" fill="#add8e6"/><circle cx="773.1" cy="160.2" r="8.6" fill="#add8e6"/><circle cx="747.8" cy="187.7" r="8.6" fill="#add8e6"/><circle cx="742.8" cy="193.6" r="8.6" fill="#add8e6"/><circle cx="773.1" cy="197.8" r="8.6" fill="#add8e6"/><circle cx="758.0" cy="211.3" r="8.6" fill="#add8e6"/><circle cx="771.5" cy="125.3" r="8.6" fill="#add8e6"/><circle cx="499.4" cy="260.7" r="8.6" fill="#add8e6"/><circle cx="511.9" cy="254.3" r="8.6" fill="#add8e6"/><circle cx="530.6" cy="260.7" r="8.6" fill="#add8e6"/><circle cx="539.4" cy="257.4" r="8.6" fill="#add8e6"/><circle cx="533.2" cy="272.9" r="8.6" fill="#add8e6"/><circle cx="587.0" cy="267.0" r="8.6" fill="#add8e6"/><circle cx="602.7" cy="267.0" r="8.6" fill="#add8e6"/><circle cx="613.6" cy="243.0" r="8.6" fill="#add8e6"/><circle cx="615.3" cy="254.0" r="8.6" fill="#add8e6"/><circle cx="623.8" cy="258.2" r="8.6" fill="#add8e6"/><circle cx="621.2" cy="254.0" r="8.6" fill="#add8e6"/><circle cx="683.6" cy="246.4" r="8.6" fill="#add8e6"/><circle cx="684.5" cy="254.0" r="8.6" fill="#add8e6"/><circle cx="684.5" cy="270.0" r="8.6" fill="#add8e6"/><circle cx="659.2" cy="225.3" r="8.6" fill="#add8e6"/><circle cx="657.5" cy="232.9" r="8.6" fill="#add8e6"/><circle cx="657.5" cy="254.0" r="8.6" fill="#add8e6"/><circle cx="671.0" cy="251.5" r="8.6" fill="#add8e6"/><circle cx="660.9" cy="257.4" r="8.6" fill="#add8e6"/><circle cx="666.8" cy="266.6" r="8.6" fill="#add8e6"/><circle cx="659.2" cy="263.8" r="8.6" fill="#add8e6"/><circle cx="724.2" cy="239.6" r="8.6" fill="#add8e6"/><circle cx="731.0" cy="238.8" r="8.6" fill="#add8e6"/><circle cx="709.0" cy="272.5" r="8.6" fill="#add8e6"/><circle cx="715.8" cy="275.9" r="8.6" fill="#add8e6"/><circle cx="116.9" cy="469.4" r="8.6" fill="#add8e6"/><circle cx="147.2" cy="511.6" r="8.6" fill="#add8e6"/><circle cx="196.2" cy="509.0" r="8.6" fill="#add8e6"/><circle cx="206.3" cy="507.4" r="8.6" fill="#add8e6"/><circle cx="214.7" cy="514.1" r="8.6" fill="#add8e6"/><circle cx="221.5" cy="520.9" r="8.6" fill="#add8e6"/><circle cx="226.5" cy="525.9" r="8.6" fill="#add8e6"/><circle cx="223.1" cy="531.0" r="8.6" fill="#add8e6"/><circle cx="241.7" cy="534.3" r="8.6" fill="#add8e6"/><circle cx="236.6" cy="542.8" r="8.6" fill="#add8e6"/><circle cx="266.2" cy="522.5" r="8.6" fill="#add8e6"/><circle cx="338.7" cy="482.1" r="8.6" fill="#add8e6"/><circle cx="340.4" cy="505.7" r="8.6" fill="#add8e6"/><circle cx="218.1" cy="559.6" r="8.6" fill="#add8e6"/><circle cx="224.8" cy="568.1" r="8.6" fill="#add8e6"/><circle cx="181.0" cy="541.1" r="8.6" fill="#add8e6"/><circle cx="183.5" cy="547.8" r="8.6" fill="#add8e6"/><circle cx="276.3" cy="554.6" r="8.6" fill="#add8e6"/><circle cx="295.7" cy="558.0" r="8.6" fill="#add8e6"/><circle cx="299.9" cy="554.6" r="8.6" fill="#add8e6"/><circle cx="210.7" cy="566.7" r="8.6" fill="#add8e6"/><circle cx="220.9" cy="570.1" r="8.6" fill="#add8e6"/><circle cx="229.3" cy="576.9" r="8.6" fill="#add8e6"/><circle cx="224.2" cy="581.9" r="8.6" fill="#add8e6"/><circle cx="217.5" cy="575.2" r="8.6" fill="#add8e6"/><circle cx="259.6" cy="575.2" r="8.6" fill="#add8e6"/><circle cx="268.1" cy="573.5" r="8.6" fill="#add8e6"/><circle cx="276.5" cy="583.6" r="8.6" fill="#add8e6"/><circle cx="303.5" cy="585.3" r="8.6" fill="#add8e6"/><circle cx="318.7" cy="593.7" r="8.6" fill="#add8e6"/><circle cx="311.9" cy="598.8" r="8.6" fill="#add8e6"/><circle cx="323.8" cy="602.2" r="8.6" fill="#add8e6"/><circle cx="347.4" cy="597.1" r="8.6" fill="#add8e6"/><circle cx="360.9" cy="605.5" r="8.6" fill="#add8e6"/><circle cx="355.8" cy="620.7" r="8.6" fill="#add8e6"/><circle cx="354.1" cy="576.9" r="8.6" fill="#add8e6"/><circle cx="369.3" cy="585.3" r="8.6" fill="#add8e6"/><circle cx="387.9" cy="587.8" r="8.6" fill="#add8e6"/><circle cx="389.5" cy="624.1" r="8.6" fill="#add8e6"/><circle cx="387.9" cy="637.6" r="8.6" fill="#add8e6"/><circle cx="236.4" cy="578.2" r="8.6" fill="#add8e6"/><circle cx="348.2" cy="611.5" r="8.6" fill="#add8e6"/><circle cx="358.8" cy="578.2" r="8.6" fill="#add8e6"/><circle cx="425.7" cy="484.6" r="8.6" fill="#add8e6"/><circle cx="359.9" cy="509.0" r="8.6" fill="#add8e6"/><circle cx="410.5" cy="496.4" r="8.6" fill="#add8e6"/><circle cx="421.5" cy="524.2" r="8.6" fill="#add8e6"/><circle cx="408.0" cy="515.5" r="8.6" fill="#add8e6"/><circle cx="465.3" cy="522.5" r="8.6" fill="#add8e6"/><circle cx="438.3" cy="514.9" r="8.6" fill="#add8e6"/><circle cx="453.8" cy="514.9" r="8.6" fill="#add8e6"/><circle cx="475.4" cy="531.0" r="8.6" fill="#add8e6"/><circle cx="460.3" cy="537.7" r="8.6" fill="#add8e6"/><circle cx="484.7" cy="554.6" r="8.6" fill="#add8e6"/><circle cx="517.6" cy="488.8" r="8.6" fill="#add8e6"/><circle cx="418.1" cy="546.2" r="8.6" fill="#add8e6"/><circle cx="446.8" cy="567.2" r="8.6" fill="#add8e6"/><circle cx="473.8" cy="608.9" r="8.6" fill="#add8e6"/><circle cx="478.8" cy="614.0" r="8.6" fill="#add8e6"/><circle cx="489.8" cy="593.7" r="8.6" fill="#add8e6"/><circle cx="509.2" cy="570.1" r="8.6" fill="#add8e6"/><circle cx="532.8" cy="595.4" r="8.6" fill="#add8e6"/><circle cx="541.2" cy="598.8" r="8.6" fill="#add8e6"/><circle cx="532.8" cy="635.9" r="8.6" fill="#add8e6"/><circle cx="544.6" cy="637.6" r="8.6" fill="#add8e6"/><circle cx="527.7" cy="641.0" r="8.6" fill="#add8e6"/><circle cx="601.2" cy="514.9" r="8.6" fill="#add8e6"/><circle cx="605.9" cy="514.9" r="8.6" fill="#add8e6"/><circle cx="640.4" cy="567.6" r="8.6" fill="#add8e6"/><circle cx="610.5" cy="571.5" r="8.6" fill="#add8e6"/><circle cx="554.6" cy="575.4" r="8.6" fill="#add8e6"/><circle cx="561.3" cy="578.0" r="8.6" fill="#add8e6"/><circle cx="571.5" cy="577.1" r="8.6" fill="#add8e6"/><circle cx="590.0" cy="608.3" r="8.6" fill="#add8e6"/><circle cx="1361.9" cy="467.0" r="8.6" fill="#add8e6"/><circle cx="1378.8" cy="478.8" r="8.6" fill="#add8e6"/><circle cx="1361.9" cy="485.5" r="8.6" fill="#add8e6"/><circle cx="1355.2" cy="472.1" r="8.6" fill="#add8e6"/><circle cx="1364.5" cy="472.9" r="8.6" fill="#add8e6"/><circle cx="1361.9" cy="480.5" r="8.6" fill="#add8e6"/><circle cx="1350.1" cy="478.8" r="8.6" fill="#add8e6"/><circle cx="1371.2" cy="475.8" r="8.6" fill="#add8e6"/><circle cx="1403.3" cy="478.5" r="8.6" fill="#add8e6"/><circle cx="1413.4" cy="499.9" r="8.6" fill="#add8e6"/><circle cx="1436.2" cy="507.5" r="8.6" fill="#add8e6"/><circle cx="1422.7" cy="514.2" r="8.6" fill="#add8e6"/><circle cx="1419.3" cy="522.7" r="8.6" fill="#add8e6"/><circle cx="1388.1" cy="502.9" r="8.6" fill="#add8e6"/><circle cx="1413.4" cy="518.4" r="8.6" fill="#add8e6"/><circle cx="1390.6" cy="537.0" r="8.6" fill="#add8e6"/><circle cx="1405.0" cy="537.8" r="8.6" fill="#add8e6"/><circle cx="1347.6" cy="525.2" r="8.6" fill="#add8e6"/><circle cx="1331.6" cy="541.2" r="8.6" fill="#add8e6"/><circle cx="1334.1" cy="548.0" r="8.6" fill="#add8e6"/><circle cx="1333.3" cy="553.0" r="8.6" fill="#add8e6"/><circle cx="1378.8" cy="544.6" r="8.6" fill="#add8e6"/><circle cx="1383.0" cy="544.6" r="8.6" fill="#add8e6"/><circle cx="1357.7" cy="560.6" r="8.6" fill="#add8e6"/><circle cx="1353.2" cy="569.2" r="8.6" fill="#add8e6"/><circle cx="1425.4" cy="516.9" r="8.6" fill="#add8e6"/><circle cx="1415.3" cy="528.7" r="8.6" fill="#add8e6"/><circle cx="1455.2" cy="469.1" r="8.6" fill="#add8e6"/><circle cx="1459.2" cy="474.5" r="8.6" fill="#add8e6"/><circle cx="157.1" cy="472.0" r="8.6" fill="#add8e6"/><circle cx="179.0" cy="468.8" r="8.6" fill="#add8e6"/><circle cx="197.6" cy="473.6" r="8.6" fill="#add8e6"/><circle cx="204.9" cy="480.9" r="8.6" fill="#add8e6"/><circle cx="214.6" cy="495.5" r="8.6" fill="#add8e6"/><circle cx="175.8" cy="493.1" r="8.6" fill="#add8e6"/><circle cx="169.3" cy="484.1" r="8.6" fill="#add8e6"/><circle cx="165.2" cy="471.2" r="8.6" fill="#add8e6"/><circle cx="180.6" cy="479.3" r="8.6" fill="#add8e6"/><circle cx="165.2" cy="478.5" r="8.6" fill="#add8e6"/><circle cx="192.0" cy="482.5" r="8.6" fill="#add8e6"/><circle cx="209.0" cy="478.5" r="8.6" fill="#add8e6"/><circle cx="201.7" cy="489.8" r="8.6" fill="#add8e6"/><circle cx="167.5" cy="224.2" r="6.5" fill="#808080" stroke="#000" stroke-width="1.9"/><circle cx="171.7" cy="225.5" r="6.5" fill="#808080" stroke="#000" stroke-width="1.9"/><circle cx="411.4" cy="122.1" r="6.5" fill="#808080" stroke="#000" stroke-width="1.9"/><circle cx="798.7" cy="109.6" r="6.5" fill="#808080" stroke="#000" stroke-width="1.9"/><circle cx="990.0" cy="58.7" r="6.5" fill="#808080" stroke="#000" stroke-width="1.9"/><circle cx="1012.4" cy="77.3" r="6.5" fill="#808080" stroke="#000" stroke-width="1.9"/><circle cx="1058.0" cy="126.2" r="6.5" fill="#808080" stroke="#000" stroke-width="1.9"/><circle cx="1123.6" cy="159.0" r="6.5" fill="#808080" stroke="#000" stroke-width="1.9"/><circle cx="1138.5" cy="153.1" r="6.5" fill="#808080" stroke="#000" stroke-width="1.9"/><circle cx="1165.3" cy="160.2" r="6.5" fill="#808080" stroke="#000" stroke-width="1.9"/><circle cx="1213.0" cy="192.8" r="6.5" fill="#808080" stroke="#000" stroke-width="1.9"/><circle cx="1218.9" cy="201.2" r="6.5" fill="#808080" stroke="#000" stroke-width="1.9"/><circle cx="1231.6" cy="203.7" r="6.5" fill="#808080" stroke="#000" stroke-width="1.9"/><circle cx="1278.8" cy="214.7" r="6.5" fill="#808080" stroke="#000" stroke-width="1.9"/><circle cx="1282.2" cy="222.3" r="6.5" fill="#808080" stroke="#000" stroke-width="1.9"/><circle cx="1279.0" cy="214.6" r="6.5" fill="#808080" stroke="#000" stroke-width="1.9"/><circle cx="1283.3" cy="223.9" r="6.5" fill="#808080" stroke="#000" stroke-width="1.9"/><circle cx="1315.3" cy="225.6" r="6.5" fill="#808080" stroke="#000" stroke-width="1.9"/><circle cx="1320.4" cy="230.7" r="6.5" fill="#808080" stroke="#000" stroke-width="1.9"/><circle cx="1330.5" cy="249.2" r="6.5" fill="#808080" stroke="#000" stroke-width="1.9"/><circle cx="1359.5" cy="203.7" r="6.5" fill="#808080" stroke="#000" stroke-width="1.9"/><circle cx="1402.7" cy="262.7" r="6.5" fill="#808080" stroke="#000" stroke-width="1.9"/><circle cx="595.9" cy="210.7" r="6.5" fill="#808080" stroke="#000" stroke-width="1.9"/><circle cx="588.7" cy="216.9" r="6.5" fill="#808080" stroke="#000" stroke-width="1.9"/><circle cx="620.4" cy="196.7" r="6.5" fill="#808080" stroke="#000" stroke-width="1.9"/><circle cx="630.5" cy="211.9" r="6.5" fill="#808080" stroke="#000" stroke-width="1.9"/><circle cx="494.7" cy="263.8" r="6.5" fill="#808080" stroke="#000" stroke-width="1.9"/><circle cx="509.9" cy="270.5" r="6.5" fill="#808080" stroke="#000" stroke-width="1.9"/><circle cx="555.4" cy="266.6" r="6.5" fill="#808080" stroke="#000" stroke-width="1.9"/><circle cx="669.3" cy="226.1" r="6.5" fill="#808080" stroke="#000" stroke-width="1.9"/><circle cx="672.7" cy="245.5" r="6.5" fill="#808080" stroke="#000" stroke-width="1.9"/><circle cx="664.2" cy="278.4" r="6.5" fill="#808080" stroke="#000" stroke-width="1.9"/><circle cx="630.5" cy="275.9" r="6.5" fill="#808080" stroke="#000" stroke-width="1.9"/><circle cx="671.0" cy="274.2" r="6.5" fill="#808080" stroke="#000" stroke-width="1.9"/><circle cx="339.5" cy="509.9" r="6.5" fill="#808080" stroke="#000" stroke-width="1.9"/><circle cx="187.7" cy="543.6" r="6.5" fill="#808080" stroke="#000" stroke-width="1.9"/><circle cx="251.2" cy="585.6" r="6.5" fill="#808080" stroke="#000" stroke-width="1.9"/><circle cx="265.2" cy="585.3" r="6.5" fill="#808080" stroke="#000" stroke-width="1.9"/><circle cx="330.2" cy="592.1" r="6.5" fill="#808080" stroke="#000" stroke-width="1.9"/><circle cx="392.9" cy="611.5" r="6.5" fill="#808080" stroke="#000" stroke-width="1.9"/><circle cx="374.2" cy="472.8" r="6.5" fill="#808080" stroke="#000" stroke-width="1.9"/><circle cx="459.4" cy="531.8" r="6.5" fill="#808080" stroke="#000" stroke-width="1.9"/><circle cx="468.7" cy="534.3" r="6.5" fill="#808080" stroke="#000" stroke-width="1.9"/><circle cx="498.7" cy="561.3" r="6.5" fill="#808080" stroke="#000" stroke-width="1.9"/><circle cx="509.7" cy="514.9" r="6.5" fill="#808080" stroke="#000" stroke-width="1.9"/><circle cx="520.1" cy="484.6" r="6.5" fill="#808080" stroke="#000" stroke-width="1.9"/><circle cx="603.7" cy="520.9" r="6.5" fill="#808080" stroke="#000" stroke-width="1.9"/><circle cx="631.6" cy="531.0" r="6.5" fill="#808080" stroke="#000" stroke-width="1.9"/><circle cx="643.4" cy="529.3" r="6.5" fill="#808080" stroke="#000" stroke-width="1.9"/><circle cx="646.8" cy="534.3" r="6.5" fill="#808080" stroke="#000" stroke-width="1.9"/><circle cx="648.4" cy="541.9" r="6.5" fill="#808080" stroke="#000" stroke-width="1.9"/><circle cx="645.1" cy="551.2" r="6.5" fill="#808080" stroke="#000" stroke-width="1.9"/><circle cx="641.7" cy="547.8" r="6.5" fill="#808080" stroke="#000" stroke-width="1.9"/><circle cx="635.0" cy="546.2" r="6.5" fill="#808080" stroke="#000" stroke-width="1.9"/><circle cx="635.8" cy="534.3" r="6.5" fill="#808080" stroke="#000" stroke-width="1.9"/><circle cx="1346.8" cy="475.4" r="6.5" fill="#808080" stroke="#000" stroke-width="1.9"/><circle cx="1385.6" cy="514.2" r="6.5" fill="#808080" stroke="#000" stroke-width="1.9"/><circle cx="1392.3" cy="514.2" r="6.5" fill="#808080" stroke="#000" stroke-width="1.9"/><circle cx="1407.5" cy="526.0" r="6.5" fill="#808080" stroke="#000" stroke-width="1.9"/><circle cx="1372.1" cy="524.3" r="6.5" fill="#808080" stroke="#000" stroke-width="1.9"/><circle cx="1365.3" cy="529.4" r="6.5" fill="#808080" stroke="#000" stroke-width="1.9"/><circle cx="1363.6" cy="534.5" r="6.5" fill="#808080" stroke="#000" stroke-width="1.9"/><circle cx="1328.2" cy="548.0" r="6.5" fill="#808080" stroke="#000" stroke-width="1.9"/><circle cx="1365.3" cy="556.4" r="6.5" fill="#808080" stroke="#000" stroke-width="1.9"/><circle cx="1375.4" cy="554.7" r="6.5" fill="#808080" stroke="#000" stroke-width="1.9"/><circle cx="188.7" cy="472.8" r="6.5" fill="#808080" stroke="#000" stroke-width="1.9"/><circle cx="627.8" cy="534.0" r="6.5" fill="#808080" stroke="#000" stroke-width="1.9"/><circle cx="637.2" cy="527.3" r="6.5" fill="#808080" stroke="#000" stroke-width="1.9"/><circle cx="647.4" cy="533.3" r="6.5" fill="#808080" stroke="#000" stroke-width="1.9"/><circle cx="642.6" cy="548.2" r="6.5" fill="#808080" stroke="#000" stroke-width="1.9"/><circle cx="649.4" cy="545.5" r="6.5" fill="#808080" stroke="#000" stroke-width="1.9"/><circle cx="635.9" cy="534.7" r="6.5" fill="#808080" stroke="#000" stroke-width="1.9"/><circle cx="241.7" cy="205.3" r="6.5" fill="#ffa500" stroke="#000" stroke-width="1.9"/><circle cx="227.4" cy="212.1" r="6.5" fill="#ffa500" stroke="#000" stroke-width="1.9"/><circle cx="245.9" cy="197.7" r="6.5" fill="#ffa500" stroke="#000" stroke-width="1.9"/><circle cx="137.1" cy="260.1" r="6.5" fill="#ffa500" stroke="#000" stroke-width="1.9"/><circle cx="985.1" cy="50.6" r="6.5" fill="#ffa500" stroke="#000" stroke-width="1.9"/><circle cx="1058.8" cy="135.5" r="6.5" fill="#ffa500" stroke="#000" stroke-width="1.9"/><circle cx="1207.1" cy="180.1" r="6.5" fill="#ffa500" stroke="#000" stroke-width="1.9"/><circle cx="1227.4" cy="186.9" r="6.5" fill="#ffa500" stroke="#000" stroke-width="1.9"/><circle cx="1205.4" cy="199.5" r="6.5" fill="#ffa500" stroke="#000" stroke-width="1.9"/><circle cx="1298.2" cy="205.4" r="6.5" fill="#ffa500" stroke="#000" stroke-width="1.9"/><circle cx="1309.2" cy="216.4" r="6.5" fill="#ffa500" stroke="#000" stroke-width="1.9"/><circle cx="1297.6" cy="204.5" r="6.5" fill="#ffa500" stroke="#000" stroke-width="1.9"/><circle cx="1308.6" cy="217.2" r="6.5" fill="#ffa500" stroke="#000" stroke-width="1.9"/><circle cx="1303.5" cy="242.5" r="6.5" fill="#ffa500" stroke="#000" stroke-width="1.9"/><circle cx="1285.0" cy="236.6" r="6.5" fill="#ffa500" stroke="#000" stroke-width="1.9"/><circle cx="1327.1" cy="239.1" r="6.5" fill="#ffa500" stroke="#000" stroke-width="1.9"/><circle cx="1395.9" cy="250.9" r="6.5" fill="#ffa500" stroke="#000" stroke-width="1.9"/><circle cx="634.7" cy="186.6" r="6.5" fill="#ffa500" stroke="#000" stroke-width="1.9"/><circle cx="691.2" cy="213.9" r="6.5" fill="#ffa500" stroke="#000" stroke-width="1.9"/><circle cx="624.1" cy="236.0" r="6.5" fill="#ffa500" stroke="#000" stroke-width="1.9"/><circle cx="760.8" cy="207.1" r="6.5" fill="#ffa500" stroke="#000" stroke-width="1.9"/><circle cx="525.1" cy="250.6" r="6.5" fill="#ffa500" stroke="#000" stroke-width="1.9"/><circle cx="524.2" cy="266.6" r="6.5" fill="#ffa500" stroke="#000" stroke-width="1.9"/><circle cx="579.9" cy="263.3" r="6.5" fill="#ffa500" stroke="#000" stroke-width="1.9"/><circle cx="628.0" cy="253.6" r="6.5" fill="#ffa500" stroke="#000" stroke-width="1.9"/><circle cx="667.6" cy="240.5" r="6.5" fill="#ffa500" stroke="#000" stroke-width="1.9"/><circle cx="331.1" cy="471.9" r="6.5" fill="#ffa500" stroke="#000" stroke-width="1.9"/><circle cx="336.2" cy="475.3" r="6.5" fill="#ffa500" stroke="#000" stroke-width="1.9"/><circle cx="202.9" cy="561.3" r="6.5" fill="#ffa500" stroke="#000" stroke-width="1.9"/><circle cx="191.1" cy="553.7" r="6.5" fill="#ffa500" stroke="#000" stroke-width="1.9"/><circle cx="201.2" cy="556.3" r="6.5" fill="#ffa500" stroke="#000" stroke-width="1.9"/><circle cx="236.6" cy="567.2" r="6.5" fill="#ffa500" stroke="#000" stroke-width="1.9"/><circle cx="411.3" cy="472.3" r="6.5" fill="#ffa500" stroke="#000" stroke-width="1.9"/><circle cx="424.8" cy="488.8" r="6.5" fill="#ffa500" stroke="#000" stroke-width="1.9"/><circle cx="414.7" cy="508.2" r="6.5" fill="#ffa500" stroke="#000" stroke-width="1.9"/><circle cx="445.1" cy="514.9" r="6.5" fill="#ffa500" stroke="#000" stroke-width="1.9"/><circle cx="483.9" cy="550.4" r="6.5" fill="#ffa500" stroke="#000" stroke-width="1.9"/><circle cx="1379.7" cy="468.7" r="6.5" fill="#ffa500" stroke="#000" stroke-width="1.9"/><circle cx="1403.3" cy="515.9" r="6.5" fill="#ffa500" stroke="#000" stroke-width="1.9"/><circle cx="1408.3" cy="517.6" r="6.5" fill="#ffa500" stroke="#000" stroke-width="1.9"/><circle cx="1394.0" cy="530.2" r="6.5" fill="#ffa500" stroke="#000" stroke-width="1.9"/><circle cx="1353.5" cy="551.3" r="6.5" fill="#ffa500" stroke="#000" stroke-width="1.9"/><circle cx="1350.1" cy="556.4" r="6.5" fill="#ffa500" stroke="#000" stroke-width="1.9"/><circle cx="156.5" cy="230.3" r="6.5" fill="#ffc0cb" stroke="#000" stroke-width="1.9"/><circle cx="228.2" cy="207.8" r="6.5" fill="#ffc0cb" stroke="#000" stroke-width="1.9"/><circle cx="233.3" cy="212.1" r="6.5" fill="#ffc0cb" stroke="#000" stroke-width="1.9"/><circle cx="144.2" cy="263.8" r="6.5" fill="#ffc0cb" stroke="#000" stroke-width="1.9"/><circle cx="115.2" cy="271.1" r="6.5" fill="#ffc0cb" stroke="#000" stroke-width="1.9"/><circle cx="490.5" cy="122.1" r="6.5" fill="#ffc0cb" stroke="#000" stroke-width="1.9"/><circle cx="866.2" cy="29.0" r="6.5" fill="#ffc0cb" stroke="#000" stroke-width="1.9"/><circle cx="895.7" cy="44.7" r="6.5" fill="#ffc0cb" stroke="#000" stroke-width="1.9"/><circle cx="1037.4" cy="82.4" r="6.5" fill="#ffc0cb" stroke="#000" stroke-width="1.9"/><circle cx="1141.8" cy="89.6" r="6.5" fill="#ffc0cb" stroke="#000" stroke-width="1.9"/><circle cx="998.6" cy="120.3" r="6.5" fill="#ffc0cb" stroke="#000" stroke-width="1.9"/><circle cx="1050.9" cy="130.9" r="6.5" fill="#ffc0cb" stroke="#000" stroke-width="1.9"/><circle cx="1060.5" cy="130.4" r="6.5" fill="#ffc0cb" stroke="#000" stroke-width="1.9"/><circle cx="1183.0" cy="180.1" r="6.5" fill="#ffc0cb" stroke="#000" stroke-width="1.9"/><circle cx="1216.7" cy="183.0" r="6.5" fill="#ffc0cb" stroke="#000" stroke-width="1.9"/><circle cx="1239.2" cy="207.1" r="6.5" fill="#ffc0cb" stroke="#000" stroke-width="1.9"/><circle cx="1267.0" cy="203.7" r="6.5" fill="#ffc0cb" stroke="#000" stroke-width="1.9"/><circle cx="1298.2" cy="211.3" r="6.5" fill="#ffc0cb" stroke="#000" stroke-width="1.9"/><circle cx="1268.1" cy="203.7" r="6.5" fill="#ffc0cb" stroke="#000" stroke-width="1.9"/><circle cx="1297.6" cy="211.3" r="6.5" fill="#ffc0cb" stroke="#000" stroke-width="1.9"/><circle cx="1290.0" cy="238.3" r="6.5" fill="#ffc0cb" stroke="#000" stroke-width="1.9"/><circle cx="1303.5" cy="229.0" r="6.5" fill="#ffc0cb" stroke="#000" stroke-width="1.9"/><circle cx="1288.3" cy="249.2" r="6.5" fill="#ffc0cb" stroke="#000" stroke-width="1.9"/><circle cx="1316.2" cy="242.5" r="6.5" fill="#ffc0cb" stroke="#000" stroke-width="1.9"/><circle cx="1320.4" cy="250.1" r="6.5" fill="#ffc0cb" stroke="#000" stroke-width="1.9"/><circle cx="1296.8" cy="255.1" r="6.5" fill="#ffc0cb" stroke="#000" stroke-width="1.9"/><circle cx="1307.7" cy="236.6" r="6.5" fill="#ffc0cb" stroke="#000" stroke-width="1.9"/><circle cx="1383.3" cy="261.0" r="6.5" fill="#ffc0cb" stroke="#000" stroke-width="1.9"/><circle cx="1390.0" cy="256.0" r="6.5" fill="#ffc0cb" stroke="#000" stroke-width="1.9"/><circle cx="1465.1" cy="276.2" r="6.5" fill="#ffc0cb" stroke="#000" stroke-width="1.9"/><circle cx="555.4" cy="206.8" r="6.5" fill="#ffc0cb" stroke="#000" stroke-width="1.9"/><circle cx="617.8" cy="214.4" r="6.5" fill="#ffc0cb" stroke="#000" stroke-width="1.9"/><circle cx="629.7" cy="207.7" r="6.5" fill="#ffc0cb" stroke="#000" stroke-width="1.9"/><circle cx="857.5" cy="144.2" r="6.5" fill="#ffc0cb" stroke="#000" stroke-width="1.9"/><circle cx="475.3" cy="263.8" r="6.5" fill="#ffc0cb" stroke="#000" stroke-width="1.9"/><circle cx="527.6" cy="267.5" r="6.5" fill="#ffc0cb" stroke="#000" stroke-width="1.9"/><circle cx="572.6" cy="276.8" r="6.5" fill="#ffc0cb" stroke="#000" stroke-width="1.9"/><circle cx="612.8" cy="260.7" r="6.5" fill="#ffc0cb" stroke="#000" stroke-width="1.9"/><circle cx="614.5" cy="257.4" r="6.5" fill="#ffc0cb" stroke="#000" stroke-width="1.9"/><circle cx="652.4" cy="248.9" r="6.5" fill="#ffc0cb" stroke="#000" stroke-width="1.9"/><circle cx="643.2" cy="257.4" r="6.5" fill="#ffc0cb" stroke="#000" stroke-width="1.9"/><circle cx="636.4" cy="270.0" r="6.5" fill="#ffc0cb" stroke="#000" stroke-width="1.9"/><circle cx="649.1" cy="272.5" r="6.5" fill="#ffc0cb" stroke="#000" stroke-width="1.9"/><circle cx="667.6" cy="270.9" r="6.5" fill="#ffc0cb" stroke="#000" stroke-width="1.9"/><circle cx="657.5" cy="276.8" r="6.5" fill="#ffc0cb" stroke="#000" stroke-width="1.9"/><circle cx="315.9" cy="472.8" r="6.5" fill="#ffc0cb" stroke="#000" stroke-width="1.9"/><circle cx="337.9" cy="477.8" r="6.5" fill="#ffc0cb" stroke="#000" stroke-width="1.9"/><circle cx="312.2" cy="522.5" r="6.5" fill="#ffc0cb" stroke="#000" stroke-width="1.9"/><circle cx="312.2" cy="518.3" r="6.5" fill="#ffc0cb" stroke="#000" stroke-width="1.9"/><circle cx="195.3" cy="560.5" r="6.5" fill="#ffc0cb" stroke="#000" stroke-width="1.9"/><circle cx="306.6" cy="558.0" r="6.5" fill="#ffc0cb" stroke="#000" stroke-width="1.9"/><circle cx="282.8" cy="595.4" r="6.5" fill="#ffc0cb" stroke="#000" stroke-width="1.9"/><circle cx="420.6" cy="509.0" r="6.5" fill="#ffc0cb" stroke="#000" stroke-width="1.9"/><circle cx="484.7" cy="503.1" r="6.5" fill="#ffc0cb" stroke="#000" stroke-width="1.9"/><circle cx="418.9" cy="551.6" r="6.5" fill="#ffc0cb" stroke="#000" stroke-width="1.9"/><circle cx="428.5" cy="565.6" r="6.5" fill="#ffc0cb" stroke="#000" stroke-width="1.9"/><circle cx="504.6" cy="578.2" r="6.5" fill="#ffc0cb" stroke="#000" stroke-width="1.9"/><circle cx="628.2" cy="551.7" r="6.5" fill="#ffc0cb" stroke="#000" stroke-width="1.9"/><circle cx="1388.1" cy="521.8" r="6.5" fill="#ffc0cb" stroke="#000" stroke-width="1.9"/><circle cx="1372.1" cy="531.1" r="6.5" fill="#ffc0cb" stroke="#000" stroke-width="1.9"/><circle cx="1382.2" cy="531.1" r="6.5" fill="#ffc0cb" stroke="#000" stroke-width="1.9"/><circle cx="1352.7" cy="517.6" r="6.5" fill="#ffc0cb" stroke="#000" stroke-width="1.9"/><circle cx="1345.1" cy="543.7" r="6.5" fill="#ffc0cb" stroke="#000" stroke-width="1.9"/><circle cx="1359.4" cy="544.6" r="6.5" fill="#ffc0cb" stroke="#000" stroke-width="1.9"/><circle cx="1370.4" cy="546.3" r="6.5" fill="#ffc0cb" stroke="#000" stroke-width="1.9"/><circle cx="1372.9" cy="558.1" r="6.5" fill="#ffc0cb" stroke="#000" stroke-width="1.9"/><circle cx="175.0" cy="485.0" r="6.5" fill="#ffc0cb" stroke="#000" stroke-width="1.9"/><circle cx="229.9" cy="200.2" r="6.5" fill="#add8e6" stroke="#000" stroke-width="1.9"/><circle cx="234.1" cy="203.6" r="6.5" fill="#add8e6" stroke="#000" stroke-width="1.9"/><circle cx="331.6" cy="121.6" r="6.5" fill="#add8e6" stroke="#000" stroke-width="1.9"/><circle cx="420.6" cy="115.7" r="6.5" fill="#add8e6" stroke="#000" stroke-width="1.9"/><circle cx="518.8" cy="65.1" r="6.5" fill="#add8e6" stroke="#000" stroke-width="1.9"/><circle cx="729.9" cy="95.6" r="6.5" fill="#add8e6" stroke="#000" stroke-width="1.9"/><circle cx="933.3" cy="50.9" r="6.5" fill="#add8e6" stroke="#000" stroke-width="1.9"/><circle cx="883.5" cy="118.1" r="6.5" fill="#add8e6" stroke="#000" stroke-width="1.9"/><circle cx="1022.5" cy="80.3" r="6.5" fill="#add8e6" stroke="#000" stroke-width="1.9"/><circle cx="1123.8" cy="67.7" r="6.5" fill="#add8e6" stroke="#000" stroke-width="1.9"/><circle cx="1169.0" cy="78.1" r="6.5" fill="#add8e6" stroke="#000" stroke-width="1.9"/><circle cx="1065.0" cy="95.5" r="6.5" fill="#add8e6" stroke="#000" stroke-width="1.9"/><circle cx="1036.5" cy="101.4" r="6.5" fill="#add8e6" stroke="#000" stroke-width="1.9"/><circle cx="1111.4" cy="95.5" r="6.5" fill="#add8e6" stroke="#000" stroke-width="1.9"/><circle cx="1144.0" cy="93.3" r="6.5" fill="#add8e6" stroke="#000" stroke-width="1.9"/><circle cx="1003.1" cy="125.0" r="6.5" fill="#add8e6" stroke="#000" stroke-width="1.9"/><circle cx="993.9" cy="131.3" r="6.5" fill="#add8e6" stroke="#000" stroke-width="1.9"/><circle cx="1101.7" cy="153.6" r="6.5" fill="#add8e6" stroke="#000" stroke-width="1.9"/><circle cx="1121.9" cy="153.1" r="6.5" fill="#add8e6" stroke="#000" stroke-width="1.9"/><circle cx="1129.0" cy="146.9" r="6.5" fill="#add8e6" stroke="#000" stroke-width="1.9"/><circle cx="1132.1" cy="160.7" r="6.5" fill="#add8e6" stroke="#000" stroke-width="1.9"/><circle cx="1189.4" cy="187.7" r="6.5" fill="#add8e6" stroke="#000" stroke-width="1.9"/><circle cx="1203.7" cy="186.9" r="6.5" fill="#add8e6" stroke="#000" stroke-width="1.9"/><circle cx="1237.5" cy="187.7" r="6.5" fill="#add8e6" stroke="#000" stroke-width="1.9"/><circle cx="1199.5" cy="197.8" r="6.5" fill="#add8e6" stroke="#000" stroke-width="1.9"/><circle cx="1278.0" cy="203.7" r="6.5" fill="#add8e6" stroke="#000" stroke-width="1.9"/><circle cx="1258.6" cy="218.9" r="6.5" fill="#add8e6" stroke="#000" stroke-width="1.9"/><circle cx="1258.0" cy="220.2" r="6.5" fill="#add8e6" stroke="#000" stroke-width="1.9"/><circle cx="1256.3" cy="251.8" r="6.5" fill="#add8e6" stroke="#000" stroke-width="1.9"/><circle cx="1278.2" cy="203.7" r="6.5" fill="#add8e6" stroke="#000" stroke-width="1.9"/><circle cx="1296.8" cy="236.6" r="6.5" fill="#add8e6" stroke="#000" stroke-width="1.9"/><circle cx="1367.6" cy="223.9" r="6.5" fill="#add8e6" stroke="#000" stroke-width="1.9"/><circle cx="1373.0" cy="217.2" r="6.5" fill="#add8e6" stroke="#000" stroke-width="1.9"/><circle cx="1401.8" cy="257.7" r="6.5" fill="#add8e6" stroke="#000" stroke-width="1.9"/><circle cx="1394.2" cy="264.1" r="6.5" fill="#add8e6" stroke="#000" stroke-width="1.9"/><circle cx="1399.3" cy="278.7" r="6.5" fill="#add8e6" stroke="#000" stroke-width="1.9"/><circle cx="1422.4" cy="251.8" r="6.5" fill="#add8e6" stroke="#000" stroke-width="1.9"/><circle cx="1456.6" cy="261.0" r="6.5" fill="#add8e6" stroke="#000" stroke-width="1.9"/><circle cx="1460.9" cy="271.2" r="6.5" fill="#add8e6" stroke="#000" stroke-width="1.9"/><circle cx="611.1" cy="211.0" r="6.5" fill="#add8e6" stroke="#000" stroke-width="1.9"/><circle cx="621.2" cy="200.9" r="6.5" fill="#add8e6" stroke="#000" stroke-width="1.9"/><circle cx="639.8" cy="198.4" r="6.5" fill="#add8e6" stroke="#000" stroke-width="1.9"/><circle cx="632.2" cy="193.3" r="6.5" fill="#add8e6" stroke="#000" stroke-width="1.9"/><circle cx="669.6" cy="166.3" r="6.5" fill="#add8e6" stroke="#000" stroke-width="1.9"/><circle cx="678.1" cy="144.4" r="6.5" fill="#add8e6" stroke="#000" stroke-width="1.9"/><circle cx="669.3" cy="189.9" r="6.5" fill="#add8e6" stroke="#000" stroke-width="1.9"/><circle cx="665.9" cy="194.2" r="6.5" fill="#add8e6" stroke="#000" stroke-width="1.9"/><circle cx="499.4" cy="260.7" r="6.5" fill="#add8e6" stroke="#000" stroke-width="1.9"/><circle cx="511.9" cy="254.3" r="6.5" fill="#add8e6" stroke="#000" stroke-width="1.9"/><circle cx="530.6" cy="260.7" r="6.5" fill="#add8e6" stroke="#000" stroke-width="1.9"/><circle cx="539.4" cy="257.4" r="6.5" fill="#add8e6" stroke="#000" stroke-width="1.9"/><circle cx="533.2" cy="272.9" r="6.5" fill="#add8e6" stroke="#000" stroke-width="1.9"/><circle cx="587.0" cy="267.0" r="6.5" fill="#add8e6" stroke="#000" stroke-width="1.9"/><circle cx="602.7" cy="267.0" r="6.5" fill="#add8e6" stroke="#000" stroke-width="1.9"/><circle cx="615.3" cy="254.0" r="6.5" fill="#add8e6" stroke="#000" stroke-width="1.9"/><circle cx="623.8" cy="258.2" r="6.5" fill="#add8e6" stroke="#000" stroke-width="1.9"/><circle cx="621.2" cy="254.0" r="6.5" fill="#add8e6" stroke="#000" stroke-width="1.9"/><circle cx="659.2" cy="225.3" r="6.5" fill="#add8e6" stroke="#000" stroke-width="1.9"/><circle cx="657.5" cy="232.9" r="6.5" fill="#add8e6" stroke="#000" stroke-width="1.9"/><circle cx="657.5" cy="254.0" r="6.5" fill="#add8e6" stroke="#000" stroke-width="1.9"/><circle cx="671.0" cy="251.5" r="6.5" fill="#add8e6" stroke="#000" stroke-width="1.9"/><circle cx="660.9" cy="257.4" r="6.5" fill="#add8e6" stroke="#000" stroke-width="1.9"/><circle cx="666.8" cy="266.6" r="6.5" fill="#add8e6" stroke="#000" stroke-width="1.9"/><circle cx="659.2" cy="263.8" r="6.5" fill="#add8e6" stroke="#000" stroke-width="1.9"/><circle cx="266.2" cy="522.5" r="6.5" fill="#add8e6" stroke="#000" stroke-width="1.9"/><circle cx="338.7" cy="482.1" r="6.5" fill="#add8e6" stroke="#000" stroke-width="1.9"/><circle cx="340.4" cy="505.7" r="6.5" fill="#add8e6" stroke="#000" stroke-width="1.9"/><circle cx="181.0" cy="541.1" r="6.5" fill="#add8e6" stroke="#000" stroke-width="1.9"/><circle cx="183.5" cy="547.8" r="6.5" fill="#add8e6" stroke="#000" stroke-width="1.9"/><circle cx="276.3" cy="554.6" r="6.5" fill="#add8e6" stroke="#000" stroke-width="1.9"/><circle cx="299.9" cy="554.6" r="6.5" fill="#add8e6" stroke="#000" stroke-width="1.9"/><circle cx="236.4" cy="578.2" r="6.5" fill="#add8e6" stroke="#000" stroke-width="1.9"/><circle cx="348.2" cy="611.5" r="6.5" fill="#add8e6" stroke="#000" stroke-width="1.9"/><circle cx="358.8" cy="578.2" r="6.5" fill="#add8e6" stroke="#000" stroke-width="1.9"/><circle cx="425.7" cy="484.6" r="6.5" fill="#add8e6" stroke="#000" stroke-width="1.9"/><circle cx="408.0" cy="515.5" r="6.5" fill="#add8e6" stroke="#000" stroke-width="1.9"/><circle cx="438.3" cy="514.9" r="6.5" fill="#add8e6" stroke="#000" stroke-width="1.9"/><circle cx="453.8" cy="514.9" r="6.5" fill="#add8e6" stroke="#000" stroke-width="1.9"/><circle cx="484.7" cy="554.6" r="6.5" fill="#add8e6" stroke="#000" stroke-width="1.9"/><circle cx="601.2" cy="514.9" r="6.5" fill="#add8e6" stroke="#000" stroke-width="1.9"/><circle cx="605.9" cy="514.9" r="6.5" fill="#add8e6" stroke="#000" stroke-width="1.9"/><circle cx="640.4" cy="567.6" r="6.5" fill="#add8e6" stroke="#000" stroke-width="1.9"/><circle cx="1355.2" cy="472.1" r="6.5" fill="#add8e6" stroke="#000" stroke-width="1.9"/><circle cx="1364.5" cy="472.9" r="6.5" fill="#add8e6" stroke="#000" stroke-width="1.9"/><circle cx="1361.9" cy="480.5" r="6.5" fill="#add8e6" stroke="#000" stroke-width="1.9"/><circle cx="1350.1" cy="478.8" r="6.5" fill="#add8e6" stroke="#000" stroke-width="1.9"/><circle cx="1371.2" cy="475.8" r="6.5" fill="#add8e6" stroke="#000" stroke-width="1.9"/><circle cx="1388.1" cy="502.9" r="6.5" fill="#add8e6" stroke="#000" stroke-width="1.9"/><circle cx="1413.4" cy="518.4" r="6.5" fill="#add8e6" stroke="#000" stroke-width="1.9"/><circle cx="1390.6" cy="537.0" r="6.5" fill="#add8e6" stroke="#000" stroke-width="1.9"/><circle cx="1405.0" cy="537.8" r="6.5" fill="#add8e6" stroke="#000" stroke-width="1.9"/><circle cx="1347.6" cy="525.2" r="6.5" fill="#add8e6" stroke="#000" stroke-width="1.9"/><circle cx="1331.6" cy="541.2" r="6.5" fill="#add8e6" stroke="#000" stroke-width="1.9"/><circle cx="1334.1" cy="548.0" r="6.5" fill="#add8e6" stroke="#000" stroke-width="1.9"/><circle cx="1333.3" cy="553.0" r="6.5" fill="#add8e6" stroke="#000" stroke-width="1.9"/><circle cx="1378.8" cy="544.6" r="6.5" fill="#add8e6" stroke="#000" stroke-width="1.9"/><circle cx="1383.0" cy="544.6" r="6.5" fill="#add8e6" stroke="#000" stroke-width="1.9"/><circle cx="1357.7" cy="560.6" r="6.5" fill="#add8e6" stroke="#000" stroke-width="1.9"/><circle cx="1353.2" cy="569.2" r="6.5" fill="#add8e6" stroke="#000" stroke-width="1.9"/><circle cx="165.2" cy="478.5" r="6.5" fill="#add8e6" stroke="#000" stroke-width="1.9"/></g>
<ellipse cx="789.6" cy="372.35" rx="706.82" ry="353.41" fill="none" stroke="#000" stroke-width="3.4"/>

<rect x="664.6" y="391.1" width="249.8" height="211.9" rx="7" ry="7" fill="#fff" fill-opacity="0.8" stroke="#d2d2d2" stroke-width="2.8"/>
<circle cx="712.5" cy="423.2" r="8.6" fill="#808080"/>
<circle cx="712.5" cy="473.5" r="8.6" fill="#ffa500"/>
<circle cx="712.5" cy="523.8" r="8.6" fill="#ffc0cb"/>
<circle cx="712.5" cy="574.0" r="8.6" fill="#add8e6"/>
<g font-size="34.2">
<text x="772.2" y="432.0">Num=4</text>
<text x="772.2" y="482.3">Num=3</text>
<text x="772.2" y="532.6">Num=2</text>
<text x="772.2" y="582.9">Num=1</text>
</g>

</svg>
</body></html>
